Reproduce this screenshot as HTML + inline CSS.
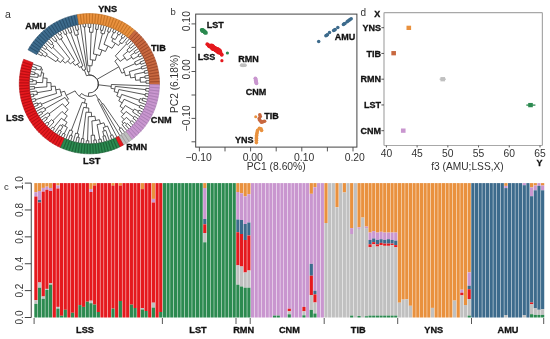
<!DOCTYPE html>
<html><head><meta charset="utf-8"><style>
html,body{margin:0;padding:0;background:#fff;}
svg{display:block;font-family:"Liberation Sans", sans-serif;will-change:transform;filter:blur(0.3px);}
text[font-weight=bold]{stroke:#111;stroke-width:0.3px;}
</style></head><body>
<svg width="550" height="339" viewBox="0 0 550 339">
<rect width="550" height="339" fill="#fff"/>
<path d="M60.55,147.59 A70.1,70.1 0 0 1 23.70,59.27 L33.07,62.75 A60.1,60.1 0 0 0 64.67,138.48 Z" fill="#e5191e"/>
<path d="M60.55,147.59 A70.1,70.1 0 0 1 57.84,146.29 L62.34,137.36 A60.1,60.1 0 0 0 64.67,138.48 Z" fill="none" stroke="#b00c10" stroke-width="0.6"/>
<path d="M57.84,146.29 A70.1,70.1 0 0 1 55.18,144.88 L60.06,136.15 A60.1,60.1 0 0 0 62.34,137.36 Z" fill="none" stroke="#b00c10" stroke-width="0.6"/>
<path d="M55.18,144.88 A70.1,70.1 0 0 1 52.59,143.35 L57.84,134.84 A60.1,60.1 0 0 0 60.06,136.15 Z" fill="none" stroke="#b00c10" stroke-width="0.6"/>
<path d="M52.59,143.35 A70.1,70.1 0 0 1 50.06,141.72 L55.67,133.44 A60.1,60.1 0 0 0 57.84,134.84 Z" fill="none" stroke="#b00c10" stroke-width="0.6"/>
<path d="M50.06,141.72 A70.1,70.1 0 0 1 47.60,139.98 L53.57,131.95 A60.1,60.1 0 0 0 55.67,133.44 Z" fill="none" stroke="#b00c10" stroke-width="0.6"/>
<path d="M47.60,139.98 A70.1,70.1 0 0 1 45.23,138.13 L51.53,130.37 A60.1,60.1 0 0 0 53.57,131.95 Z" fill="none" stroke="#b00c10" stroke-width="0.6"/>
<path d="M45.23,138.13 A70.1,70.1 0 0 1 42.93,136.19 L49.56,128.70 A60.1,60.1 0 0 0 51.53,130.37 Z" fill="none" stroke="#b00c10" stroke-width="0.6"/>
<path d="M42.93,136.19 A70.1,70.1 0 0 1 40.72,134.14 L47.67,126.95 A60.1,60.1 0 0 0 49.56,128.70 Z" fill="none" stroke="#b00c10" stroke-width="0.6"/>
<path d="M40.72,134.14 A70.1,70.1 0 0 1 38.60,132.01 L45.85,125.12 A60.1,60.1 0 0 0 47.67,126.95 Z" fill="none" stroke="#b00c10" stroke-width="0.6"/>
<path d="M38.60,132.01 A70.1,70.1 0 0 1 36.58,129.78 L44.11,123.21 A60.1,60.1 0 0 0 45.85,125.12 Z" fill="none" stroke="#b00c10" stroke-width="0.6"/>
<path d="M36.58,129.78 A70.1,70.1 0 0 1 34.65,127.47 L42.46,121.23 A60.1,60.1 0 0 0 44.11,123.21 Z" fill="none" stroke="#b00c10" stroke-width="0.6"/>
<path d="M34.65,127.47 A70.1,70.1 0 0 1 32.82,125.08 L40.89,119.18 A60.1,60.1 0 0 0 42.46,121.23 Z" fill="none" stroke="#b00c10" stroke-width="0.6"/>
<path d="M32.82,125.08 A70.1,70.1 0 0 1 31.09,122.61 L39.41,117.06 A60.1,60.1 0 0 0 40.89,119.18 Z" fill="none" stroke="#b00c10" stroke-width="0.6"/>
<path d="M31.09,122.61 A70.1,70.1 0 0 1 29.48,120.08 L38.03,114.89 A60.1,60.1 0 0 0 39.41,117.06 Z" fill="none" stroke="#b00c10" stroke-width="0.6"/>
<path d="M29.48,120.08 A70.1,70.1 0 0 1 27.97,117.47 L36.73,112.65 A60.1,60.1 0 0 0 38.03,114.89 Z" fill="none" stroke="#b00c10" stroke-width="0.6"/>
<path d="M27.97,117.47 A70.1,70.1 0 0 1 26.58,114.80 L35.54,110.37 A60.1,60.1 0 0 0 36.73,112.65 Z" fill="none" stroke="#b00c10" stroke-width="0.6"/>
<path d="M26.58,114.80 A70.1,70.1 0 0 1 25.30,112.08 L34.44,108.03 A60.1,60.1 0 0 0 35.54,110.37 Z" fill="none" stroke="#b00c10" stroke-width="0.6"/>
<path d="M25.30,112.08 A70.1,70.1 0 0 1 24.14,109.30 L33.45,105.65 A60.1,60.1 0 0 0 34.44,108.03 Z" fill="none" stroke="#b00c10" stroke-width="0.6"/>
<path d="M24.14,109.30 A70.1,70.1 0 0 1 23.10,106.48 L32.56,103.23 A60.1,60.1 0 0 0 33.45,105.65 Z" fill="none" stroke="#b00c10" stroke-width="0.6"/>
<path d="M23.10,106.48 A70.1,70.1 0 0 1 22.19,103.61 L31.77,100.77 A60.1,60.1 0 0 0 32.56,103.23 Z" fill="none" stroke="#b00c10" stroke-width="0.6"/>
<path d="M22.19,103.61 A70.1,70.1 0 0 1 21.39,100.71 L31.10,98.28 A60.1,60.1 0 0 0 31.77,100.77 Z" fill="none" stroke="#b00c10" stroke-width="0.6"/>
<path d="M21.39,100.71 A70.1,70.1 0 0 1 20.73,97.77 L30.52,95.76 A60.1,60.1 0 0 0 31.10,98.28 Z" fill="none" stroke="#b00c10" stroke-width="0.6"/>
<path d="M20.73,97.77 A70.1,70.1 0 0 1 20.19,94.81 L30.06,93.23 A60.1,60.1 0 0 0 30.52,95.76 Z" fill="none" stroke="#b00c10" stroke-width="0.6"/>
<path d="M20.19,94.81 A70.1,70.1 0 0 1 19.77,91.83 L29.71,90.67 A60.1,60.1 0 0 0 30.06,93.23 Z" fill="none" stroke="#b00c10" stroke-width="0.6"/>
<path d="M19.77,91.83 A70.1,70.1 0 0 1 19.49,88.83 L29.46,88.10 A60.1,60.1 0 0 0 29.71,90.67 Z" fill="none" stroke="#b00c10" stroke-width="0.6"/>
<path d="M19.49,88.83 A70.1,70.1 0 0 1 19.33,85.83 L29.33,85.52 A60.1,60.1 0 0 0 29.46,88.10 Z" fill="none" stroke="#b00c10" stroke-width="0.6"/>
<path d="M19.33,85.83 A70.1,70.1 0 0 1 19.31,82.82 L29.30,82.94 A60.1,60.1 0 0 0 29.33,85.52 Z" fill="none" stroke="#b00c10" stroke-width="0.6"/>
<path d="M19.31,82.82 A70.1,70.1 0 0 1 19.41,79.81 L29.39,80.37 A60.1,60.1 0 0 0 29.30,82.94 Z" fill="none" stroke="#b00c10" stroke-width="0.6"/>
<path d="M19.41,79.81 A70.1,70.1 0 0 1 19.64,76.81 L29.59,77.79 A60.1,60.1 0 0 0 29.39,80.37 Z" fill="none" stroke="#b00c10" stroke-width="0.6"/>
<path d="M19.64,76.81 A70.1,70.1 0 0 1 20.00,73.82 L29.90,75.23 A60.1,60.1 0 0 0 29.59,77.79 Z" fill="none" stroke="#b00c10" stroke-width="0.6"/>
<path d="M20.00,73.82 A70.1,70.1 0 0 1 20.49,70.85 L30.32,72.69 A60.1,60.1 0 0 0 29.90,75.23 Z" fill="none" stroke="#b00c10" stroke-width="0.6"/>
<path d="M20.49,70.85 A70.1,70.1 0 0 1 21.10,67.91 L30.85,70.16 A60.1,60.1 0 0 0 30.32,72.69 Z" fill="none" stroke="#b00c10" stroke-width="0.6"/>
<path d="M21.10,67.91 A70.1,70.1 0 0 1 21.84,64.99 L31.48,67.66 A60.1,60.1 0 0 0 30.85,70.16 Z" fill="none" stroke="#b00c10" stroke-width="0.6"/>
<path d="M21.84,64.99 A70.1,70.1 0 0 1 22.71,62.11 L32.22,65.19 A60.1,60.1 0 0 0 31.48,67.66 Z" fill="none" stroke="#b00c10" stroke-width="0.6"/>
<path d="M22.71,62.11 A70.1,70.1 0 0 1 23.70,59.27 L33.07,62.75 A60.1,60.1 0 0 0 32.22,65.19 Z" fill="none" stroke="#b00c10" stroke-width="0.6"/>
<path d="M28.03,49.82 A70.1,70.1 0 0 1 77.23,14.66 L78.96,24.51 A60.1,60.1 0 0 0 36.78,54.65 Z" fill="#3d6b8c"/>
<path d="M28.03,49.82 A70.1,70.1 0 0 1 29.60,47.12 L38.13,52.34 A60.1,60.1 0 0 0 36.78,54.65 Z" fill="none" stroke="#274c68" stroke-width="0.6"/>
<path d="M29.60,47.12 A70.1,70.1 0 0 1 31.29,44.49 L39.58,50.08 A60.1,60.1 0 0 0 38.13,52.34 Z" fill="none" stroke="#274c68" stroke-width="0.6"/>
<path d="M31.29,44.49 A70.1,70.1 0 0 1 33.10,41.94 L41.13,47.90 A60.1,60.1 0 0 0 39.58,50.08 Z" fill="none" stroke="#274c68" stroke-width="0.6"/>
<path d="M33.10,41.94 A70.1,70.1 0 0 1 35.01,39.47 L42.77,45.78 A60.1,60.1 0 0 0 41.13,47.90 Z" fill="none" stroke="#274c68" stroke-width="0.6"/>
<path d="M35.01,39.47 A70.1,70.1 0 0 1 37.04,37.09 L44.51,43.74 A60.1,60.1 0 0 0 42.77,45.78 Z" fill="none" stroke="#274c68" stroke-width="0.6"/>
<path d="M37.04,37.09 A70.1,70.1 0 0 1 39.17,34.80 L46.34,41.78 A60.1,60.1 0 0 0 44.51,43.74 Z" fill="none" stroke="#274c68" stroke-width="0.6"/>
<path d="M39.17,34.80 A70.1,70.1 0 0 1 41.40,32.61 L48.25,39.90 A60.1,60.1 0 0 0 46.34,41.78 Z" fill="none" stroke="#274c68" stroke-width="0.6"/>
<path d="M41.40,32.61 A70.1,70.1 0 0 1 43.73,30.52 L50.24,38.11 A60.1,60.1 0 0 0 48.25,39.90 Z" fill="none" stroke="#274c68" stroke-width="0.6"/>
<path d="M43.73,30.52 A70.1,70.1 0 0 1 46.14,28.54 L52.31,36.41 A60.1,60.1 0 0 0 50.24,38.11 Z" fill="none" stroke="#274c68" stroke-width="0.6"/>
<path d="M46.14,28.54 A70.1,70.1 0 0 1 48.64,26.67 L54.46,34.80 A60.1,60.1 0 0 0 52.31,36.41 Z" fill="none" stroke="#274c68" stroke-width="0.6"/>
<path d="M48.64,26.67 A70.1,70.1 0 0 1 51.23,24.91 L56.67,33.29 A60.1,60.1 0 0 0 54.46,34.80 Z" fill="none" stroke="#274c68" stroke-width="0.6"/>
<path d="M51.23,24.91 A70.1,70.1 0 0 1 53.88,23.26 L58.95,31.88 A60.1,60.1 0 0 0 56.67,33.29 Z" fill="none" stroke="#274c68" stroke-width="0.6"/>
<path d="M53.88,23.26 A70.1,70.1 0 0 1 56.61,21.74 L61.29,30.58 A60.1,60.1 0 0 0 58.95,31.88 Z" fill="none" stroke="#274c68" stroke-width="0.6"/>
<path d="M56.61,21.74 A70.1,70.1 0 0 1 59.41,20.34 L63.69,29.38 A60.1,60.1 0 0 0 61.29,30.58 Z" fill="none" stroke="#274c68" stroke-width="0.6"/>
<path d="M59.41,20.34 A70.1,70.1 0 0 1 62.26,19.07 L66.13,28.29 A60.1,60.1 0 0 0 63.69,29.38 Z" fill="none" stroke="#274c68" stroke-width="0.6"/>
<path d="M62.26,19.07 A70.1,70.1 0 0 1 65.17,17.92 L68.63,27.30 A60.1,60.1 0 0 0 66.13,28.29 Z" fill="none" stroke="#274c68" stroke-width="0.6"/>
<path d="M65.17,17.92 A70.1,70.1 0 0 1 68.13,16.91 L71.16,26.43 A60.1,60.1 0 0 0 68.63,27.30 Z" fill="none" stroke="#274c68" stroke-width="0.6"/>
<path d="M68.13,16.91 A70.1,70.1 0 0 1 71.13,16.02 L73.73,25.68 A60.1,60.1 0 0 0 71.16,26.43 Z" fill="none" stroke="#274c68" stroke-width="0.6"/>
<path d="M71.13,16.02 A70.1,70.1 0 0 1 74.16,15.28 L76.34,25.04 A60.1,60.1 0 0 0 73.73,25.68 Z" fill="none" stroke="#274c68" stroke-width="0.6"/>
<path d="M74.16,15.28 A70.1,70.1 0 0 1 77.23,14.66 L78.96,24.51 A60.1,60.1 0 0 0 76.34,25.04 Z" fill="none" stroke="#274c68" stroke-width="0.6"/>
<path d="M77.23,14.66 A70.1,70.1 0 0 1 134.93,30.40 L128.43,38.00 A60.1,60.1 0 0 0 78.96,24.51 Z" fill="#e9913e"/>
<path d="M77.23,14.66 A70.1,70.1 0 0 1 80.28,14.20 L81.58,24.11 A60.1,60.1 0 0 0 78.96,24.51 Z" fill="none" stroke="#c06e22" stroke-width="0.6"/>
<path d="M80.28,14.20 A70.1,70.1 0 0 1 83.35,13.86 L84.21,23.82 A60.1,60.1 0 0 0 81.58,24.11 Z" fill="none" stroke="#c06e22" stroke-width="0.6"/>
<path d="M83.35,13.86 A70.1,70.1 0 0 1 86.43,13.66 L86.86,23.65 A60.1,60.1 0 0 0 84.21,23.82 Z" fill="none" stroke="#c06e22" stroke-width="0.6"/>
<path d="M86.43,13.66 A70.1,70.1 0 0 1 89.52,13.60 L89.50,23.60 A60.1,60.1 0 0 0 86.86,23.65 Z" fill="none" stroke="#c06e22" stroke-width="0.6"/>
<path d="M89.52,13.60 A70.1,70.1 0 0 1 92.61,13.67 L92.15,23.66 A60.1,60.1 0 0 0 89.50,23.60 Z" fill="none" stroke="#c06e22" stroke-width="0.6"/>
<path d="M92.61,13.67 A70.1,70.1 0 0 1 95.69,13.88 L94.79,23.84 A60.1,60.1 0 0 0 92.15,23.66 Z" fill="none" stroke="#c06e22" stroke-width="0.6"/>
<path d="M95.69,13.88 A70.1,70.1 0 0 1 98.76,14.23 L97.43,24.14 A60.1,60.1 0 0 0 94.79,23.84 Z" fill="none" stroke="#c06e22" stroke-width="0.6"/>
<path d="M98.76,14.23 A70.1,70.1 0 0 1 101.81,14.71 L100.04,24.55 A60.1,60.1 0 0 0 97.43,24.14 Z" fill="none" stroke="#c06e22" stroke-width="0.6"/>
<path d="M101.81,14.71 A70.1,70.1 0 0 1 104.84,15.32 L102.64,25.08 A60.1,60.1 0 0 0 100.04,24.55 Z" fill="none" stroke="#c06e22" stroke-width="0.6"/>
<path d="M104.84,15.32 A70.1,70.1 0 0 1 107.84,16.07 L105.21,25.72 A60.1,60.1 0 0 0 102.64,25.08 Z" fill="none" stroke="#c06e22" stroke-width="0.6"/>
<path d="M107.84,16.07 A70.1,70.1 0 0 1 110.80,16.95 L107.75,26.47 A60.1,60.1 0 0 0 105.21,25.72 Z" fill="none" stroke="#c06e22" stroke-width="0.6"/>
<path d="M110.80,16.95 A70.1,70.1 0 0 1 113.72,17.95 L110.25,27.33 A60.1,60.1 0 0 0 107.75,26.47 Z" fill="none" stroke="#c06e22" stroke-width="0.6"/>
<path d="M113.72,17.95 A70.1,70.1 0 0 1 116.59,19.09 L112.71,28.31 A60.1,60.1 0 0 0 110.25,27.33 Z" fill="none" stroke="#c06e22" stroke-width="0.6"/>
<path d="M116.59,19.09 A70.1,70.1 0 0 1 119.41,20.35 L115.13,29.39 A60.1,60.1 0 0 0 112.71,28.31 Z" fill="none" stroke="#c06e22" stroke-width="0.6"/>
<path d="M119.41,20.35 A70.1,70.1 0 0 1 122.17,21.73 L117.50,30.57 A60.1,60.1 0 0 0 115.13,29.39 Z" fill="none" stroke="#c06e22" stroke-width="0.6"/>
<path d="M122.17,21.73 A70.1,70.1 0 0 1 124.87,23.24 L119.81,31.86 A60.1,60.1 0 0 0 117.50,30.57 Z" fill="none" stroke="#c06e22" stroke-width="0.6"/>
<path d="M124.87,23.24 A70.1,70.1 0 0 1 127.50,24.86 L122.07,33.25 A60.1,60.1 0 0 0 119.81,31.86 Z" fill="none" stroke="#c06e22" stroke-width="0.6"/>
<path d="M127.50,24.86 A70.1,70.1 0 0 1 130.06,26.60 L124.26,34.74 A60.1,60.1 0 0 0 122.07,33.25 Z" fill="none" stroke="#c06e22" stroke-width="0.6"/>
<path d="M130.06,26.60 A70.1,70.1 0 0 1 132.53,28.44 L126.38,36.32 A60.1,60.1 0 0 0 124.26,34.74 Z" fill="none" stroke="#c06e22" stroke-width="0.6"/>
<path d="M132.53,28.44 A70.1,70.1 0 0 1 134.93,30.40 L128.43,38.00 A60.1,60.1 0 0 0 126.38,36.32 Z" fill="none" stroke="#c06e22" stroke-width="0.6"/>
<path d="M134.93,30.40 A70.1,70.1 0 0 1 159.49,84.68 L149.49,84.54 A60.1,60.1 0 0 0 128.43,38.00 Z" fill="#c8683f"/>
<path d="M134.93,30.40 A70.1,70.1 0 0 1 137.22,32.44 L130.40,39.76 A60.1,60.1 0 0 0 128.43,38.00 Z" fill="none" stroke="#9a4628" stroke-width="0.6"/>
<path d="M137.22,32.44 A70.1,70.1 0 0 1 139.42,34.59 L132.29,41.60 A60.1,60.1 0 0 0 130.40,39.76 Z" fill="none" stroke="#9a4628" stroke-width="0.6"/>
<path d="M139.42,34.59 A70.1,70.1 0 0 1 141.53,36.83 L134.09,43.52 A60.1,60.1 0 0 0 132.29,41.60 Z" fill="none" stroke="#9a4628" stroke-width="0.6"/>
<path d="M141.53,36.83 A70.1,70.1 0 0 1 143.54,39.17 L135.81,45.52 A60.1,60.1 0 0 0 134.09,43.52 Z" fill="none" stroke="#9a4628" stroke-width="0.6"/>
<path d="M143.54,39.17 A70.1,70.1 0 0 1 145.44,41.59 L137.45,47.59 A60.1,60.1 0 0 0 135.81,45.52 Z" fill="none" stroke="#9a4628" stroke-width="0.6"/>
<path d="M145.44,41.59 A70.1,70.1 0 0 1 147.23,44.09 L138.98,49.74 A60.1,60.1 0 0 0 137.45,47.59 Z" fill="none" stroke="#9a4628" stroke-width="0.6"/>
<path d="M147.23,44.09 A70.1,70.1 0 0 1 148.92,46.66 L140.43,51.95 A60.1,60.1 0 0 0 138.98,49.74 Z" fill="none" stroke="#9a4628" stroke-width="0.6"/>
<path d="M148.92,46.66 A70.1,70.1 0 0 1 150.48,49.31 L141.77,54.21 A60.1,60.1 0 0 0 140.43,51.95 Z" fill="none" stroke="#9a4628" stroke-width="0.6"/>
<path d="M150.48,49.31 A70.1,70.1 0 0 1 151.93,52.02 L143.01,56.54 A60.1,60.1 0 0 0 141.77,54.21 Z" fill="none" stroke="#9a4628" stroke-width="0.6"/>
<path d="M151.93,52.02 A70.1,70.1 0 0 1 153.26,54.80 L144.15,58.92 A60.1,60.1 0 0 0 143.01,56.54 Z" fill="none" stroke="#9a4628" stroke-width="0.6"/>
<path d="M153.26,54.80 A70.1,70.1 0 0 1 154.47,57.63 L145.19,61.35 A60.1,60.1 0 0 0 144.15,58.92 Z" fill="none" stroke="#9a4628" stroke-width="0.6"/>
<path d="M154.47,57.63 A70.1,70.1 0 0 1 155.55,60.51 L146.12,63.82 A60.1,60.1 0 0 0 145.19,61.35 Z" fill="none" stroke="#9a4628" stroke-width="0.6"/>
<path d="M155.55,60.51 A70.1,70.1 0 0 1 156.51,63.43 L146.93,66.32 A60.1,60.1 0 0 0 146.12,63.82 Z" fill="none" stroke="#9a4628" stroke-width="0.6"/>
<path d="M156.51,63.43 A70.1,70.1 0 0 1 157.33,66.40 L147.64,68.87 A60.1,60.1 0 0 0 146.93,66.32 Z" fill="none" stroke="#9a4628" stroke-width="0.6"/>
<path d="M157.33,66.40 A70.1,70.1 0 0 1 158.02,69.39 L148.24,71.44 A60.1,60.1 0 0 0 147.64,68.87 Z" fill="none" stroke="#9a4628" stroke-width="0.6"/>
<path d="M158.02,69.39 A70.1,70.1 0 0 1 158.59,72.42 L148.72,74.03 A60.1,60.1 0 0 0 148.24,71.44 Z" fill="none" stroke="#9a4628" stroke-width="0.6"/>
<path d="M158.59,72.42 A70.1,70.1 0 0 1 159.01,75.47 L149.08,76.64 A60.1,60.1 0 0 0 148.72,74.03 Z" fill="none" stroke="#9a4628" stroke-width="0.6"/>
<path d="M159.01,75.47 A70.1,70.1 0 0 1 159.31,78.53 L149.34,79.27 A60.1,60.1 0 0 0 149.08,76.64 Z" fill="none" stroke="#9a4628" stroke-width="0.6"/>
<path d="M159.31,78.53 A70.1,70.1 0 0 1 159.47,81.60 L149.47,81.90 A60.1,60.1 0 0 0 149.34,79.27 Z" fill="none" stroke="#9a4628" stroke-width="0.6"/>
<path d="M159.47,81.60 A70.1,70.1 0 0 1 159.49,84.68 L149.49,84.54 A60.1,60.1 0 0 0 149.47,81.90 Z" fill="none" stroke="#9a4628" stroke-width="0.6"/>
<path d="M159.49,84.68 A70.1,70.1 0 0 1 131.88,139.46 L125.82,131.51 A60.1,60.1 0 0 0 149.49,84.54 Z" fill="#c996cf"/>
<path d="M159.49,84.68 A70.1,70.1 0 0 1 159.38,87.85 L149.39,87.26 A60.1,60.1 0 0 0 149.49,84.54 Z" fill="none" stroke="#a87cb2" stroke-width="0.6"/>
<path d="M159.38,87.85 A70.1,70.1 0 0 1 159.12,91.02 L149.17,89.97 A60.1,60.1 0 0 0 149.39,87.26 Z" fill="none" stroke="#a87cb2" stroke-width="0.6"/>
<path d="M159.12,91.02 A70.1,70.1 0 0 1 158.71,94.16 L148.83,92.67 A60.1,60.1 0 0 0 149.17,89.97 Z" fill="none" stroke="#a87cb2" stroke-width="0.6"/>
<path d="M158.71,94.16 A70.1,70.1 0 0 1 158.17,97.29 L148.36,95.35 A60.1,60.1 0 0 0 148.83,92.67 Z" fill="none" stroke="#a87cb2" stroke-width="0.6"/>
<path d="M158.17,97.29 A70.1,70.1 0 0 1 157.48,100.39 L147.77,98.01 A60.1,60.1 0 0 0 148.36,95.35 Z" fill="none" stroke="#a87cb2" stroke-width="0.6"/>
<path d="M157.48,100.39 A70.1,70.1 0 0 1 156.66,103.46 L147.06,100.64 A60.1,60.1 0 0 0 147.77,98.01 Z" fill="none" stroke="#a87cb2" stroke-width="0.6"/>
<path d="M156.66,103.46 A70.1,70.1 0 0 1 155.69,106.48 L146.24,103.23 A60.1,60.1 0 0 0 147.06,100.64 Z" fill="none" stroke="#a87cb2" stroke-width="0.6"/>
<path d="M155.69,106.48 A70.1,70.1 0 0 1 154.60,109.46 L145.29,105.79 A60.1,60.1 0 0 0 146.24,103.23 Z" fill="none" stroke="#a87cb2" stroke-width="0.6"/>
<path d="M154.60,109.46 A70.1,70.1 0 0 1 153.36,112.39 L144.24,108.29 A60.1,60.1 0 0 0 145.29,105.79 Z" fill="none" stroke="#a87cb2" stroke-width="0.6"/>
<path d="M153.36,112.39 A70.1,70.1 0 0 1 152.00,115.25 L143.07,110.75 A60.1,60.1 0 0 0 144.24,108.29 Z" fill="none" stroke="#a87cb2" stroke-width="0.6"/>
<path d="M152.00,115.25 A70.1,70.1 0 0 1 150.51,118.05 L141.79,113.15 A60.1,60.1 0 0 0 143.07,110.75 Z" fill="none" stroke="#a87cb2" stroke-width="0.6"/>
<path d="M150.51,118.05 A70.1,70.1 0 0 1 148.89,120.79 L140.40,115.49 A60.1,60.1 0 0 0 141.79,113.15 Z" fill="none" stroke="#a87cb2" stroke-width="0.6"/>
<path d="M148.89,120.79 A70.1,70.1 0 0 1 147.15,123.44 L138.91,117.77 A60.1,60.1 0 0 0 140.40,115.49 Z" fill="none" stroke="#a87cb2" stroke-width="0.6"/>
<path d="M147.15,123.44 A70.1,70.1 0 0 1 145.29,126.01 L137.32,119.98 A60.1,60.1 0 0 0 138.91,117.77 Z" fill="none" stroke="#a87cb2" stroke-width="0.6"/>
<path d="M145.29,126.01 A70.1,70.1 0 0 1 143.32,128.50 L135.62,122.11 A60.1,60.1 0 0 0 137.32,119.98 Z" fill="none" stroke="#a87cb2" stroke-width="0.6"/>
<path d="M143.32,128.50 A70.1,70.1 0 0 1 141.23,130.90 L133.84,124.16 A60.1,60.1 0 0 0 135.62,122.11 Z" fill="none" stroke="#a87cb2" stroke-width="0.6"/>
<path d="M141.23,130.90 A70.1,70.1 0 0 1 139.04,133.19 L131.96,126.13 A60.1,60.1 0 0 0 133.84,124.16 Z" fill="none" stroke="#a87cb2" stroke-width="0.6"/>
<path d="M139.04,133.19 A70.1,70.1 0 0 1 136.75,135.39 L130.00,128.02 A60.1,60.1 0 0 0 131.96,126.13 Z" fill="none" stroke="#a87cb2" stroke-width="0.6"/>
<path d="M136.75,135.39 A70.1,70.1 0 0 1 134.36,137.48 L127.95,129.81 A60.1,60.1 0 0 0 130.00,128.02 Z" fill="none" stroke="#a87cb2" stroke-width="0.6"/>
<path d="M134.36,137.48 A70.1,70.1 0 0 1 131.88,139.46 L125.82,131.51 A60.1,60.1 0 0 0 127.95,129.81 Z" fill="none" stroke="#a87cb2" stroke-width="0.6"/>
<path d="M131.88,139.46 A70.1,70.1 0 0 1 123.39,145.01 L118.54,136.26 A60.1,60.1 0 0 0 125.82,131.51 Z" fill="#c0c0c0"/>
<path d="M131.88,139.46 A70.1,70.1 0 0 1 129.14,141.45 L123.47,133.21 A60.1,60.1 0 0 0 125.82,131.51 Z" fill="none" stroke="#9a9a9a" stroke-width="0.6"/>
<path d="M129.14,141.45 A70.1,70.1 0 0 1 126.30,143.30 L121.04,134.80 A60.1,60.1 0 0 0 123.47,133.21 Z" fill="none" stroke="#9a9a9a" stroke-width="0.6"/>
<path d="M126.30,143.30 A70.1,70.1 0 0 1 123.39,145.01 L118.54,136.26 A60.1,60.1 0 0 0 121.04,134.80 Z" fill="none" stroke="#9a9a9a" stroke-width="0.6"/>
<path d="M123.39,145.01 A70.1,70.1 0 0 1 119.69,146.92 L115.37,137.90 A60.1,60.1 0 0 0 118.54,136.26 Z" fill="#e5191e"/>
<path d="M123.39,145.01 A70.1,70.1 0 0 1 119.69,146.92 L115.37,137.90 A60.1,60.1 0 0 0 118.54,136.26 Z" fill="none" stroke="#b00c10" stroke-width="0.6"/>
<path d="M119.69,146.92 A70.1,70.1 0 0 1 60.55,147.59 L64.67,138.48 A60.1,60.1 0 0 0 115.37,137.90 Z" fill="#2c8a50"/>
<path d="M119.69,146.92 A70.1,70.1 0 0 1 116.91,148.18 L112.98,138.98 A60.1,60.1 0 0 0 115.37,137.90 Z" fill="none" stroke="#1a5e34" stroke-width="0.6"/>
<path d="M116.91,148.18 A70.1,70.1 0 0 1 114.08,149.31 L110.56,139.95 A60.1,60.1 0 0 0 112.98,138.98 Z" fill="none" stroke="#1a5e34" stroke-width="0.6"/>
<path d="M114.08,149.31 A70.1,70.1 0 0 1 111.20,150.33 L108.09,140.82 A60.1,60.1 0 0 0 110.56,139.95 Z" fill="none" stroke="#1a5e34" stroke-width="0.6"/>
<path d="M111.20,150.33 A70.1,70.1 0 0 1 108.27,151.21 L105.58,141.58 A60.1,60.1 0 0 0 108.09,140.82 Z" fill="none" stroke="#1a5e34" stroke-width="0.6"/>
<path d="M108.27,151.21 A70.1,70.1 0 0 1 105.32,151.97 L103.05,142.23 A60.1,60.1 0 0 0 105.58,141.58 Z" fill="none" stroke="#1a5e34" stroke-width="0.6"/>
<path d="M105.32,151.97 A70.1,70.1 0 0 1 102.33,152.60 L100.49,142.77 A60.1,60.1 0 0 0 103.05,142.23 Z" fill="none" stroke="#1a5e34" stroke-width="0.6"/>
<path d="M102.33,152.60 A70.1,70.1 0 0 1 99.32,153.09 L97.90,143.20 A60.1,60.1 0 0 0 100.49,142.77 Z" fill="none" stroke="#1a5e34" stroke-width="0.6"/>
<path d="M99.32,153.09 A70.1,70.1 0 0 1 96.29,153.46 L95.31,143.51 A60.1,60.1 0 0 0 97.90,143.20 Z" fill="none" stroke="#1a5e34" stroke-width="0.6"/>
<path d="M96.29,153.46 A70.1,70.1 0 0 1 93.25,153.69 L92.70,143.71 A60.1,60.1 0 0 0 95.31,143.51 Z" fill="none" stroke="#1a5e34" stroke-width="0.6"/>
<path d="M93.25,153.69 A70.1,70.1 0 0 1 90.20,153.80 L90.08,143.80 A60.1,60.1 0 0 0 92.70,143.71 Z" fill="none" stroke="#1a5e34" stroke-width="0.6"/>
<path d="M90.20,153.80 A70.1,70.1 0 0 1 87.14,153.76 L87.47,143.77 A60.1,60.1 0 0 0 90.08,143.80 Z" fill="none" stroke="#1a5e34" stroke-width="0.6"/>
<path d="M87.14,153.76 A70.1,70.1 0 0 1 84.10,153.60 L84.85,143.63 A60.1,60.1 0 0 0 87.47,143.77 Z" fill="none" stroke="#1a5e34" stroke-width="0.6"/>
<path d="M84.10,153.60 A70.1,70.1 0 0 1 81.06,153.30 L82.25,143.37 A60.1,60.1 0 0 0 84.85,143.63 Z" fill="none" stroke="#1a5e34" stroke-width="0.6"/>
<path d="M81.06,153.30 A70.1,70.1 0 0 1 78.04,152.87 L79.66,143.00 A60.1,60.1 0 0 0 82.25,143.37 Z" fill="none" stroke="#1a5e34" stroke-width="0.6"/>
<path d="M78.04,152.87 A70.1,70.1 0 0 1 75.03,152.31 L77.08,142.52 A60.1,60.1 0 0 0 79.66,143.00 Z" fill="none" stroke="#1a5e34" stroke-width="0.6"/>
<path d="M75.03,152.31 A70.1,70.1 0 0 1 72.06,151.62 L74.54,141.93 A60.1,60.1 0 0 0 77.08,142.52 Z" fill="none" stroke="#1a5e34" stroke-width="0.6"/>
<path d="M72.06,151.62 A70.1,70.1 0 0 1 69.12,150.80 L72.01,141.23 A60.1,60.1 0 0 0 74.54,141.93 Z" fill="none" stroke="#1a5e34" stroke-width="0.6"/>
<path d="M69.12,150.80 A70.1,70.1 0 0 1 66.22,149.86 L69.53,140.42 A60.1,60.1 0 0 0 72.01,141.23 Z" fill="none" stroke="#1a5e34" stroke-width="0.6"/>
<path d="M66.22,149.86 A70.1,70.1 0 0 1 63.36,148.78 L67.08,139.50 A60.1,60.1 0 0 0 69.53,140.42 Z" fill="none" stroke="#1a5e34" stroke-width="0.6"/>
<path d="M63.36,148.78 A70.1,70.1 0 0 1 60.55,147.59 L64.67,138.48 A60.1,60.1 0 0 0 67.08,139.50 Z" fill="none" stroke="#1a5e34" stroke-width="0.6"/>
<path d="M76.28,30.42A54.87,54.87 0 0 1 78.67,29.88 M76.28,30.42L75.03,25.34 M78.67,29.88L77.65,24.76 M75.18,35.36A50.39,50.39 0 0 1 78.45,34.52 M78.45,34.52L77.47,30.14 M75.18,35.36L72.44,26.04 M69.51,33.20A54.27,54.27 0 0 1 71.78,32.37 M69.51,33.20L67.38,27.78 M71.78,32.37L69.89,26.85 M64.82,34.63A54.88,54.88 0 0 1 67.03,33.58 M64.82,34.63L62.48,29.96 M67.03,33.58L64.90,28.82 M59.43,35.20A57.01,57.01 0 0 1 61.62,33.91 M59.43,35.20L57.80,32.58 M61.62,33.91L60.11,31.22 M59.50,39.82A53.10,53.10 0 0 1 62.50,37.92 M62.50,37.92L60.52,34.55 M59.50,39.82L55.56,34.04 M54.97,41.75A54.27,54.27 0 0 1 56.87,40.26 M54.97,41.75L51.27,37.25 M56.87,40.26L53.38,35.59 M51.28,44.90A54.40,54.40 0 0 1 53.05,43.24 M51.28,44.90L47.28,40.83 M53.05,43.24L49.23,38.99 M51.62,48.53A51.61,51.61 0 0 1 54.06,46.08 M54.06,46.08L52.15,44.06 M51.62,48.53L45.41,42.75 M45.42,49.53A55.69,55.69 0 0 1 46.99,47.61 M45.42,49.53L41.94,46.83 M46.99,47.61L43.63,44.75 M41.45,55.82A55.47,55.47 0 0 1 42.74,53.71 M41.45,55.82L37.45,53.49 M42.74,53.71L38.84,51.20 M45.44,56.81A51.53,51.53 0 0 1 47.33,53.93 M45.44,56.81L42.08,54.75 M47.33,53.93L40.34,48.98 M56.00,61.70A40.00,40.00 0 0 1 58.37,58.46 M58.37,58.46L46.19,48.56 M56.00,61.70L46.36,55.35 M60.54,62.54A35.78,35.78 0 0 1 64.04,58.46 M64.04,58.46L52.82,47.29 M60.54,62.54L57.14,60.05 M65.42,63.18A31.57,31.57 0 0 1 69.92,58.86 M69.92,58.86L55.91,41.00 M65.42,63.18L62.21,60.43 M70.48,63.95A27.35,27.35 0 0 1 74.76,60.60 M74.76,60.60L60.98,38.84 M70.48,63.95L67.56,60.91 M75.14,65.49A23.13,23.13 0 0 1 79.50,62.79 M79.50,62.79L65.92,34.10 M75.14,65.49L72.54,62.17 M79.46,67.61A18.92,18.92 0 0 1 82.86,65.95 M82.86,65.95L70.64,32.77 M79.46,67.61L77.24,64.02 M82.97,70.48A14.70,14.70 0 0 1 85.73,69.47 M85.73,69.47L76.81,34.91 M82.97,70.48L81.12,66.69 M83.23,26.97A57.06,57.06 0 0 1 85.73,26.76 M83.23,26.97L82.90,23.95 M85.73,26.76L85.53,23.72 M88.26,27.45A56.26,56.26 0 0 1 90.74,27.45 M88.26,27.45L88.18,23.61 M90.74,27.45L90.83,23.62 M89.49,32.23A51.47,51.47 0 0 1 92.89,32.35 M89.49,32.23L89.50,27.44 M92.89,32.35L93.47,23.74 M95.52,29.24A54.80,54.80 0 0 1 97.91,29.56 M95.52,29.24L96.11,23.98 M97.91,29.56L98.74,24.33 M100.27,30.08A54.71,54.71 0 0 1 102.62,30.61 M100.27,30.08L101.34,24.80 M102.62,30.61L103.93,25.38 M100.82,33.11A51.86,51.86 0 0 1 104.14,33.98 M100.82,33.11L101.45,30.34 M104.14,33.98L106.48,26.08 M107.42,31.47A55.25,55.25 0 0 1 109.70,32.32 M107.42,31.47L109.00,26.89 M109.70,32.32L111.49,27.81 M112.55,31.92A56.72,56.72 0 0 1 114.81,32.99 M112.55,31.92L113.93,28.83 M114.81,32.99L116.32,29.97 M117.20,33.83A57.09,57.09 0 0 1 119.37,35.10 M117.20,33.83L118.66,31.21 M119.37,35.10L120.95,32.55 M111.28,37.52A51.11,51.11 0 0 1 115.26,39.62 M111.28,37.52L113.68,32.44 M115.26,39.62L118.29,34.46 M121.12,37.00A56.45,56.45 0 0 1 123.15,38.44 M121.12,37.00L123.17,33.99 M123.15,38.44L125.33,35.52 M119.27,41.75A51.50,51.50 0 0 1 121.97,43.81 M119.27,41.75L122.14,37.71 M121.97,43.81L127.42,37.15 M111.84,41.27A48.00,48.00 0 0 1 118.52,45.54 M111.84,41.27L113.29,38.52 M118.52,45.54L120.64,42.76 M103.97,44.31A42.00,42.00 0 0 1 112.03,48.32 M103.97,44.31L108.57,31.88 M112.03,48.32L115.27,43.27 M98.49,48.87A36.00,36.00 0 0 1 105.44,51.47 M98.49,48.87L102.49,33.52 M105.44,51.47L108.11,46.10 M93.41,53.97A30.00,30.00 0 0 1 99.92,55.61 M93.41,53.97L96.72,29.39 M99.92,55.61L102.03,49.99 M90.23,59.71A24.00,24.00 0 0 1 95.25,60.42 M90.23,59.71L91.19,32.26 M95.25,60.42L96.71,54.60 M87.85,65.77A18.00,18.00 0 0 1 91.92,65.88 M87.85,65.77L84.48,26.85 M91.92,65.88L92.76,59.94 M87.58,71.84A12.00,12.00 0 0 1 89.72,71.70 M87.58,71.84L80.27,24.30 M89.72,71.70L89.89,65.71 M125.68,43.06A54.48,54.48 0 0 1 127.43,44.69 M125.68,43.06L129.43,38.87 M127.43,44.69L131.35,40.67 M128.91,46.58A54.22,54.22 0 0 1 130.50,48.35 M128.91,46.58L133.20,42.55 M130.50,48.35L134.97,44.51 M126.86,50.03A50.37,50.37 0 0 1 128.99,52.56 M126.86,50.03L129.72,47.45 M128.99,52.56L136.64,46.55 M134.14,51.59A55.07,55.07 0 0 1 135.50,53.59 M134.14,51.59L138.23,48.66 M135.50,53.59L139.72,50.83 M138.00,54.91A56.49,56.49 0 0 1 139.22,57.08 M138.00,54.91L141.11,53.07 M139.22,57.08L142.40,55.37 M130.65,55.44A50.00,50.00 0 0 1 132.97,59.17 M130.65,55.44L134.83,52.58 M132.97,59.17L138.62,55.99 M123.07,55.38A44.00,44.00 0 0 1 126.76,60.45 M123.07,55.38L127.94,51.28 M126.76,60.45L131.85,57.28 M115.32,55.92A38.00,38.00 0 0 1 120.15,61.37 M115.32,55.92L126.57,43.86 M120.15,61.37L125.00,57.85 M140.02,62.12A55.03,55.03 0 0 1 140.92,64.36 M140.02,62.12L144.68,60.13 M140.92,64.36L145.67,62.58 M134.59,62.04A50.11,50.11 0 0 1 135.92,65.06 M135.92,65.06L140.48,63.23 M134.59,62.04L143.60,57.72 M141.14,66.83A54.42,54.42 0 0 1 141.83,69.11 M141.14,66.83L146.54,65.07 M141.83,69.11L147.30,67.59 M144.16,71.03A56.20,56.20 0 0 1 144.66,73.44 M144.16,71.03L147.95,70.15 M144.66,73.44L148.49,72.73 M144.87,75.90A56.02,56.02 0 0 1 145.16,78.34 M144.87,75.90L148.91,75.33 M145.16,78.34L149.22,77.95 M145.93,80.76A56.60,56.60 0 0 1 146.00,83.25 M145.93,80.76L149.42,80.58 M146.00,83.25L149.50,83.22 M140.05,77.71A51.00,51.00 0 0 1 140.38,82.17 M140.05,77.71L145.03,77.12 M140.38,82.17L145.98,82.01 M134.76,74.24A46.33,46.33 0 0 1 135.61,80.28 M134.76,74.24L144.42,72.23 M135.61,80.28L140.26,79.94 M129.29,71.65A41.67,41.67 0 0 1 130.66,77.90 M129.29,71.65L141.49,67.97 M130.66,77.90L135.28,77.25 M123.27,68.82A37.00,37.00 0 0 1 125.54,75.75 M123.27,68.82L135.28,63.54 M125.54,75.75L130.09,74.75 M114.87,61.18A34.00,34.00 0 0 1 121.72,73.16 M114.87,61.18L117.87,58.53 M121.72,73.16L124.58,72.23 M145.87,88.34A56.66,56.66 0 0 1 145.61,90.89 M145.87,88.34L149.30,88.62 M145.61,90.89L149.01,91.32 M145.46,93.47A56.90,56.90 0 0 1 144.96,95.99 M145.46,93.47L148.61,94.01 M144.96,95.99L148.08,96.68 M142.79,98.08A55.29,55.29 0 0 1 142.08,100.48 M142.79,98.08L147.43,99.33 M142.08,100.48L146.67,101.94 M140.04,98.58A52.78,52.78 0 0 1 138.92,101.98 M140.04,98.58L142.45,99.28 M138.92,101.98L145.78,104.51 M140.14,105.09A55.07,55.07 0 0 1 139.12,107.37 M140.14,105.09L144.78,107.05 M139.12,107.37L143.67,109.53 M138.97,110.11A56.17,56.17 0 0 1 137.73,112.33 M138.97,110.11L142.44,111.96 M137.73,112.33L141.11,114.33 M134.40,109.00A51.62,51.62 0 0 1 132.58,112.00 M134.40,109.00L138.36,111.23 M132.58,112.00L139.67,116.64 M134.52,116.28A55.66,55.66 0 0 1 133.00,118.29 M134.52,116.28L138.12,118.88 M133.00,118.29L136.48,121.05 M131.76,120.56A56.15,56.15 0 0 1 130.05,122.44 M131.76,120.56L134.74,123.15 M130.05,122.44L132.91,125.16 M127.45,123.40A54.99,54.99 0 0 1 125.61,125.08 M127.45,123.40L130.99,127.09 M125.61,125.08L128.98,128.93 M124.76,122.30A52.34,52.34 0 0 1 122.05,124.61 M124.76,122.30L126.54,124.25 M122.05,124.61L126.89,130.67 M126.37,117.36A50.00,50.00 0 0 1 121.90,121.70 M126.37,117.36L130.92,121.51 M121.90,121.70L123.42,123.48 M126.07,111.47A46.00,46.00 0 0 1 121.42,116.73 M126.07,111.47L133.77,117.30 M121.42,116.73L124.20,119.60 M125.29,105.51A42.00,42.00 0 0 1 120.85,111.54 M125.29,105.51L133.51,110.51 M120.85,111.54L123.85,114.19 M124.07,99.25A38.00,38.00 0 0 1 119.99,106.25 M124.07,99.25L139.64,106.23 M119.99,106.25L123.21,108.62 M121.68,94.38A34.00,34.00 0 0 1 118.76,100.84 M121.68,94.38L139.51,100.29 M118.76,100.84L122.22,102.86 M118.83,89.52A30.00,30.00 0 0 1 116.74,96.04 M118.83,89.52L145.22,94.73 M116.74,96.04L120.39,97.69 M115.26,86.41A26.00,26.00 0 0 1 114.16,91.62 M115.26,86.41L145.75,89.61 M114.16,91.62L117.97,92.84 M111.39,84.51A22.00,22.00 0 0 1 110.93,88.22 M111.39,84.51L149.46,85.90 M110.93,88.22L114.84,89.05 M121.18,127.57A54.17,54.17 0 0 1 119.02,129.06 M121.18,127.57L124.66,132.37 M119.02,129.06L122.26,134.02 M103.01,103.47A24.00,24.00 0 0 1 101.54,104.40 M103.01,103.47L120.11,128.33 M101.54,104.40L119.80,135.55 M99.06,98.89A18.00,18.00 0 0 1 97.66,99.70 M99.06,98.89L102.28,103.95 M97.66,99.70L116.96,137.11 M72.39,135.85A54.85,54.85 0 0 1 70.14,135.06 M72.39,135.85L70.77,140.84 M70.14,135.06L68.30,139.97 M72.79,131.11A50.24,50.24 0 0 1 69.73,129.93 M72.79,131.11L71.26,135.46 M69.73,129.93L65.87,139.00 M79.35,137.51A54.74,54.74 0 0 1 77.02,137.02 M79.35,137.51L78.37,142.78 M77.02,137.02L75.81,142.24 M78.88,133.93A51.32,51.32 0 0 1 75.63,133.14 M78.88,133.93L78.18,137.28 M75.63,133.14L73.27,141.60 M84.01,138.80A55.36,55.36 0 0 1 81.62,138.51 M84.01,138.80L83.55,143.51 M81.62,138.51L80.95,143.20 M88.80,140.77A57.07,57.07 0 0 1 86.32,140.69 M88.80,140.77L88.77,143.80 M86.32,140.69L86.16,143.71 M96.18,139.85A56.56,56.56 0 0 1 93.73,140.09 M96.18,139.85L96.61,143.37 M93.73,140.09L94.00,143.62 M94.48,135.12A51.67,51.67 0 0 1 91.11,135.34 M94.48,135.12L94.96,139.98 M91.11,135.34L91.39,143.77 M101.03,139.00A56.51,56.51 0 0 1 98.61,139.45 M101.03,139.00L101.77,142.51 M98.61,139.45L99.20,143.00 M105.16,135.67A54.31,54.31 0 0 1 102.88,136.31 M105.16,135.67L106.84,141.21 M102.88,136.31L104.32,141.92 M105.80,130.36A49.46,49.46 0 0 1 102.72,131.33 M102.72,131.33L104.02,136.01 M105.80,130.36L109.33,140.40 M112.52,134.78A56.07,56.07 0 0 1 110.27,135.74 M112.52,134.78L114.18,138.45 M110.27,135.74L111.78,139.48 M107.45,126.01A46.00,46.00 0 0 1 103.23,127.57 M103.23,127.57L104.26,130.87 M107.45,126.01L111.40,135.27 M103.85,122.78A41.67,41.67 0 0 1 97.09,124.65 M97.09,124.65L99.82,139.24 M103.85,122.78L105.36,126.84 M99.35,119.68A37.33,37.33 0 0 1 91.85,120.95 M91.85,120.95L92.80,135.26 M99.35,119.68L100.51,123.86 M94.91,116.24A33.00,33.00 0 0 1 88.34,116.68 M88.34,116.68L87.56,140.74 M94.91,116.24L95.64,120.51 M91.34,112.30A28.67,28.67 0 0 1 85.99,112.16 M85.99,112.16L82.81,138.67 M91.34,112.30L91.64,116.62 M88.77,108.03A24.33,24.33 0 0 1 83.64,107.34 M83.64,107.34L77.25,133.56 M88.77,108.03L88.66,112.36 M86.76,103.52A20.00,20.00 0 0 1 82.17,102.35 M82.17,102.35L71.25,130.54 M86.76,103.52L86.19,107.82 M42.56,113.53A55.53,55.53 0 0 1 41.33,111.49 M42.56,113.53L38.71,115.98 M41.33,111.49L37.37,113.78 M45.73,110.21A51.09,51.09 0 0 1 44.11,107.34 M45.73,110.21L41.94,112.51 M44.11,107.34L36.12,111.52 M47.30,118.86A54.85,54.85 0 0 1 45.83,117.03 M47.30,118.86L43.27,122.23 M45.83,117.03L41.66,120.21 M50.06,115.15A50.36,50.36 0 0 1 48.12,112.55 M50.06,115.15L46.55,117.95 M48.12,112.55L40.14,118.13 M48.95,123.85A56.99,56.99 0 0 1 47.27,122.08 M48.95,123.85L46.75,126.04 M47.27,122.08L44.97,124.17 M54.02,121.98A52.13,52.13 0 0 1 51.63,119.62 M51.63,119.62L48.10,122.97 M54.02,121.98L48.60,127.83 M54.55,128.58A56.83,56.83 0 0 1 52.65,127.05 M54.55,128.58L52.54,131.17 M52.65,127.05L50.54,129.54 M61.39,131.34A55.27,55.27 0 0 1 59.37,130.10 M61.39,131.34L58.94,135.51 M59.37,130.10L56.75,134.16 M62.89,126.65A50.47,50.47 0 0 1 60.18,124.86 M62.89,126.65L60.37,130.73 M60.18,124.86L54.61,132.71 M65.23,134.30A56.08,56.08 0 0 1 63.08,133.22 M65.23,134.30L63.50,137.93 M63.08,133.22L61.19,136.77 M67.35,127.43A48.97,48.97 0 0 1 62.35,124.53 M62.35,124.53L61.52,125.78 M67.35,127.43L64.15,133.77 M67.05,122.18A44.50,44.50 0 0 1 61.36,118.25 M61.36,118.25L53.59,127.82 M67.05,122.18L64.81,126.05 M67.25,115.80A39.00,39.00 0 0 1 62.02,111.47 M62.02,111.47L52.80,120.82 M67.25,115.80L64.13,120.33 M68.05,109.51A33.50,33.50 0 0 1 62.57,103.76 M62.57,103.76L49.07,113.86 M68.05,109.51L64.54,113.75 M69.12,103.01A28.00,28.00 0 0 1 65.01,97.45 M65.01,97.45L44.90,108.79 M69.12,103.01L65.14,106.80 M38.21,105.06A55.46,55.46 0 0 1 37.34,102.84 M38.21,105.06L33.94,106.84 M37.34,102.84L32.99,104.44 M42.15,105.84A52.18,52.18 0 0 1 40.82,102.76 M40.82,102.76L37.77,103.96 M42.15,105.84L34.98,109.20 M35.92,100.80A56.15,56.15 0 0 1 35.23,98.49 M35.92,100.80L32.15,102.00 M35.23,98.49L31.42,99.53 M33.95,96.31A56.87,56.87 0 0 1 33.46,93.92 M33.95,96.31L30.80,97.03 M33.46,93.92L30.28,94.50 M37.38,94.36A53.10,53.10 0 0 1 36.80,90.99 M37.38,94.36L33.69,95.11 M36.80,90.99L29.87,91.95 M34.61,88.91A55.03,55.03 0 0 1 34.44,86.55 M34.61,88.91L29.57,89.39 M34.44,86.55L29.38,86.81 M32.82,81.77A56.62,56.62 0 0 1 32.95,79.35 M32.82,81.77L29.33,81.65 M32.95,79.35L29.48,79.08 M36.30,84.17A53.10,53.10 0 0 1 36.38,80.75 M36.38,80.75L32.87,80.56 M36.30,84.17L29.30,84.23 M34.63,74.70A55.50,55.50 0 0 1 35.07,72.36 M34.63,74.70L30.10,73.96 M35.07,72.36L30.57,71.42 M37.79,77.48A51.98,51.98 0 0 1 38.30,74.17 M38.30,74.17L34.84,73.53 M37.79,77.48L29.73,76.51 M35.78,70.08A55.32,55.32 0 0 1 36.42,67.79 M35.78,70.08L31.15,68.91 M36.42,67.79L31.84,66.42 M40.49,70.15A50.75,50.75 0 0 1 41.46,67.03 M40.49,70.15L36.09,68.94 M41.46,67.03L32.63,63.96 M40.72,76.24A49.25,49.25 0 0 1 42.38,69.03 M40.72,76.24L38.02,75.82 M42.38,69.03L40.95,68.59 M42.61,82.61A46.80,46.80 0 0 1 43.80,73.16 M42.61,82.61L36.31,82.46 M43.80,73.16L41.41,72.60 M46.91,86.82A42.60,42.60 0 0 1 47.13,78.38 M46.91,86.82L34.52,87.73 M47.13,78.38L42.97,77.85 M51.55,90.19A38.40,38.40 0 0 1 51.01,82.70 M51.55,90.19L37.06,92.68 M51.01,82.70L46.81,82.59 M56.61,93.41A34.20,34.20 0 0 1 55.29,86.16 M56.61,93.41L35.56,99.65 M55.29,86.16L51.10,86.46 M61.84,95.55A30.00,30.00 0 0 1 59.88,89.07 M61.84,95.55L41.46,104.31 M59.88,89.07L55.75,89.82 M68.50,99.17A26.00,26.00 0 0 1 64.51,91.21 M68.50,99.17L66.89,100.36 M64.51,91.21L60.68,92.37 M85.43,99.20A16.00,16.00 0 0 1 75.10,90.88 M85.43,99.20L84.43,103.07 M75.10,90.88L66.16,95.36 M95.68,94.63A12.60,12.60 0 0 1 81.49,93.51 M95.68,94.63L98.37,99.31 M81.49,93.51L79.36,96.16 M98.53,84.82A9.20,9.20 0 0 1 88.68,92.87 M98.53,84.82L111.24,86.37 M88.68,92.87L88.41,96.26 M97.21,79.23A9.00,9.00 0 0 1 95.10,90.67 M97.21,79.23L118.91,66.82 M95.10,90.67L95.22,90.82 M88.85,74.92A8.80,8.80 0 0 1 98.05,85.30 M88.85,74.92L88.65,71.72 M98.05,85.30L98.25,85.34 M86.46,75.72A8.50,8.50 0 0 1 95.76,78.06 M86.46,75.72L84.32,69.91 M95.76,78.06L95.99,77.86" fill="none" stroke="#222" stroke-width="0.75"/>
<text x="35.8" y="28.6" text-anchor="middle" font-size="9.2" font-weight="bold" fill="#111">AMU</text>
<text x="107.7" y="11.6" text-anchor="middle" font-size="9.2" font-weight="bold" fill="#111">YNS</text>
<text x="158.4" y="51.2" text-anchor="middle" font-size="9.2" font-weight="bold" fill="#111">TIB</text>
<text x="161.3" y="123.2" text-anchor="middle" font-size="9.2" font-weight="bold" fill="#111">CNM</text>
<text x="136.8" y="150.1" text-anchor="middle" font-size="9.2" font-weight="bold" fill="#111">RMN</text>
<text x="91.7" y="164.1" text-anchor="middle" font-size="9.2" font-weight="bold" fill="#111">LST</text>
<text x="15" y="121.3" text-anchor="middle" font-size="9.2" font-weight="bold" fill="#111">LSS</text>
<text x="5" y="17.5" font-size="10.5" fill="#333">a</text>
<rect x="195.7" y="14.1" width="161.2" height="133.0" fill="none" stroke="#444" stroke-width="1"/>
<line x1="199.40" y1="147.1" x2="199.40" y2="151.4" stroke="#444" stroke-width="0.9"/>
<line x1="225.00" y1="147.1" x2="225.00" y2="151.4" stroke="#444" stroke-width="0.9"/>
<line x1="250.60" y1="147.1" x2="250.60" y2="151.4" stroke="#444" stroke-width="0.9"/>
<line x1="276.20" y1="147.1" x2="276.20" y2="151.4" stroke="#444" stroke-width="0.9"/>
<line x1="301.80" y1="147.1" x2="301.80" y2="151.4" stroke="#444" stroke-width="0.9"/>
<line x1="327.40" y1="147.1" x2="327.40" y2="151.4" stroke="#444" stroke-width="0.9"/>
<line x1="353.00" y1="147.1" x2="353.00" y2="151.4" stroke="#444" stroke-width="0.9"/>
<text x="198.60" y="160.6" text-anchor="middle" font-size="10.4" fill="#333">−0.10</text>
<text x="252.80" y="160.6" text-anchor="middle" font-size="10.4" fill="#333">0.00</text>
<text x="304.20" y="160.6" text-anchor="middle" font-size="10.4" fill="#333">0.10</text>
<text x="354.80" y="160.6" text-anchor="middle" font-size="10.4" fill="#333">0.20</text>
<line x1="191.5" y1="23.9" x2="195.7" y2="23.9" stroke="#444" stroke-width="0.9"/>
<line x1="191.5" y1="47.4" x2="195.7" y2="47.4" stroke="#444" stroke-width="0.9"/>
<line x1="191.5" y1="71.5" x2="195.7" y2="71.5" stroke="#444" stroke-width="0.9"/>
<line x1="191.5" y1="95" x2="195.7" y2="95" stroke="#444" stroke-width="0.9"/>
<line x1="191.5" y1="118.4" x2="195.7" y2="118.4" stroke="#444" stroke-width="0.9"/>
<line x1="191.5" y1="141.8" x2="195.7" y2="141.8" stroke="#444" stroke-width="0.9"/>
<text transform="translate(189.8,21.20) rotate(-90)" text-anchor="middle" font-size="10.4" fill="#333">0.10</text>
<text transform="translate(189.8,69.30) rotate(-90)" text-anchor="middle" font-size="10.4" fill="#333">0.00</text>
<text transform="translate(189.8,118.30) rotate(-90)" text-anchor="middle" font-size="10.4" fill="#333">−0.10</text>
<text x="276.2" y="170.4" text-anchor="middle" font-size="10.3" fill="#333">PC1 (8.60%)</text>
<text transform="translate(178.4,83.8) rotate(-90)" text-anchor="middle" font-size="10.2" fill="#333">PC2 (6.18%)</text>
<text x="170.6" y="15.4" font-size="9.5" fill="#333">b</text>
<circle cx="201.74" cy="29.84" r="1.95" fill="#2c8a50"/>
<circle cx="202.20" cy="30.18" r="1.95" fill="#2c8a50"/>
<circle cx="202.78" cy="29.91" r="1.95" fill="#2c8a50"/>
<circle cx="202.49" cy="30.96" r="1.95" fill="#2c8a50"/>
<circle cx="203.07" cy="30.63" r="1.95" fill="#2c8a50"/>
<circle cx="204.13" cy="31.13" r="1.95" fill="#2c8a50"/>
<circle cx="204.30" cy="31.41" r="1.95" fill="#2c8a50"/>
<circle cx="204.43" cy="31.36" r="1.95" fill="#2c8a50"/>
<circle cx="204.75" cy="32.35" r="1.95" fill="#2c8a50"/>
<circle cx="204.97" cy="32.50" r="1.95" fill="#2c8a50"/>
<circle cx="205.44" cy="32.09" r="1.95" fill="#2c8a50"/>
<circle cx="205.86" cy="32.89" r="1.95" fill="#2c8a50"/>
<circle cx="207.20" cy="44.13" r="1.8" fill="#e5191e"/>
<circle cx="208.26" cy="44.91" r="1.8" fill="#e5191e"/>
<circle cx="208.61" cy="45.65" r="1.8" fill="#e5191e"/>
<circle cx="209.10" cy="46.03" r="1.8" fill="#e5191e"/>
<circle cx="209.28" cy="46.25" r="1.8" fill="#e5191e"/>
<circle cx="209.83" cy="46.73" r="1.8" fill="#e5191e"/>
<circle cx="210.76" cy="46.23" r="1.8" fill="#e5191e"/>
<circle cx="210.51" cy="46.68" r="1.8" fill="#e5191e"/>
<circle cx="211.84" cy="47.24" r="1.8" fill="#e5191e"/>
<circle cx="212.00" cy="47.44" r="1.8" fill="#e5191e"/>
<circle cx="212.37" cy="47.87" r="1.8" fill="#e5191e"/>
<circle cx="212.71" cy="48.40" r="1.8" fill="#e5191e"/>
<circle cx="213.44" cy="49.06" r="1.8" fill="#e5191e"/>
<circle cx="214.04" cy="49.42" r="1.8" fill="#e5191e"/>
<circle cx="214.71" cy="49.82" r="1.8" fill="#e5191e"/>
<circle cx="215.02" cy="49.33" r="1.8" fill="#e5191e"/>
<circle cx="215.71" cy="50.47" r="1.8" fill="#e5191e"/>
<circle cx="216.25" cy="50.41" r="1.8" fill="#e5191e"/>
<circle cx="216.55" cy="50.39" r="1.8" fill="#e5191e"/>
<circle cx="217.17" cy="51.09" r="1.8" fill="#e5191e"/>
<circle cx="217.12" cy="50.92" r="1.8" fill="#e5191e"/>
<circle cx="218.18" cy="52.19" r="1.8" fill="#e5191e"/>
<circle cx="217.91" cy="52.34" r="1.8" fill="#e5191e"/>
<circle cx="218.73" cy="52.02" r="1.8" fill="#e5191e"/>
<circle cx="219.11" cy="52.98" r="1.8" fill="#e5191e"/>
<circle cx="220.19" cy="52.59" r="1.8" fill="#e5191e"/>
<circle cx="220.42" cy="52.93" r="1.8" fill="#e5191e"/>
<circle cx="221.03" cy="53.56" r="1.8" fill="#e5191e"/>
<circle cx="221.68" cy="54.54" r="1.8" fill="#e5191e"/>
<circle cx="221.81" cy="54.90" r="1.8" fill="#e5191e"/>
<circle cx="211.16" cy="45.84" r="2.3" fill="#e5191e"/>
<circle cx="212.10" cy="46.02" r="2.3" fill="#e5191e"/>
<circle cx="211.80" cy="46.96" r="2.3" fill="#e5191e"/>
<circle cx="212.96" cy="46.77" r="2.3" fill="#e5191e"/>
<circle cx="212.36" cy="48.31" r="2.3" fill="#e5191e"/>
<circle cx="213.27" cy="48.74" r="2.3" fill="#e5191e"/>
<circle cx="214.74" cy="47.96" r="2.3" fill="#e5191e"/>
<circle cx="214.38" cy="48.48" r="2.3" fill="#e5191e"/>
<circle cx="215.13" cy="48.88" r="2.3" fill="#e5191e"/>
<circle cx="215.40" cy="49.18" r="2.3" fill="#e5191e"/>
<circle cx="216.50" cy="49.24" r="2.3" fill="#e5191e"/>
<circle cx="216.01" cy="49.89" r="2.3" fill="#e5191e"/>
<circle cx="216.08" cy="49.40" r="2.3" fill="#e5191e"/>
<circle cx="217.83" cy="50.06" r="2.3" fill="#e5191e"/>
<circle cx="217.48" cy="49.40" r="2.3" fill="#e5191e"/>
<circle cx="217.66" cy="50.69" r="2.3" fill="#e5191e"/>
<circle cx="217.37" cy="51.02" r="2.3" fill="#e5191e"/>
<circle cx="218.90" cy="50.28" r="2.3" fill="#e5191e"/>
<circle cx="219.31" cy="51.28" r="2.3" fill="#e5191e"/>
<circle cx="219.82" cy="51.33" r="2.3" fill="#e5191e"/>
<circle cx="221.90" cy="60.70" r="1.6" fill="#e5191e"/>
<circle cx="227.40" cy="53.00" r="1.6" fill="#2c8a50"/>
<circle cx="241.52" cy="65.34" r="1.7" fill="#c0c0c0"/>
<circle cx="241.87" cy="64.98" r="1.7" fill="#c0c0c0"/>
<circle cx="243.03" cy="65.56" r="1.7" fill="#c0c0c0"/>
<circle cx="243.53" cy="65.29" r="1.7" fill="#c0c0c0"/>
<circle cx="244.50" cy="65.25" r="1.7" fill="#c0c0c0"/>
<circle cx="245.12" cy="65.29" r="1.7" fill="#c0c0c0"/>
<circle cx="255.32" cy="78.26" r="1.8" fill="#c996cf"/>
<circle cx="255.39" cy="78.73" r="1.8" fill="#c996cf"/>
<circle cx="255.79" cy="79.12" r="1.8" fill="#c996cf"/>
<circle cx="255.77" cy="80.14" r="1.8" fill="#c996cf"/>
<circle cx="255.73" cy="80.43" r="1.8" fill="#c996cf"/>
<circle cx="256.14" cy="81.04" r="1.8" fill="#c996cf"/>
<circle cx="255.88" cy="81.76" r="1.8" fill="#c996cf"/>
<circle cx="256.30" cy="82.16" r="1.8" fill="#c996cf"/>
<circle cx="256.18" cy="82.90" r="1.8" fill="#c996cf"/>
<circle cx="256.60" cy="83.56" r="1.8" fill="#c996cf"/>
<circle cx="255.70" cy="116.80" r="1.5" fill="#e9913e"/>
<circle cx="259.80" cy="114.80" r="1.8" fill="#c8683f"/>
<circle cx="259.20" cy="118.60" r="1.8" fill="#c8683f"/>
<circle cx="260.60" cy="121.00" r="1.8" fill="#c8683f"/>
<circle cx="263.30" cy="121.60" r="1.8" fill="#c8683f"/>
<circle cx="264.60" cy="121.20" r="1.8" fill="#c8683f"/>
<circle cx="260.30" cy="116.50" r="1.8" fill="#c8683f"/>
<circle cx="262.00" cy="122.00" r="1.8" fill="#c8683f"/>
<circle cx="259.50" cy="120.00" r="1.8" fill="#c8683f"/>
<circle cx="261.50" cy="122.30" r="1.8" fill="#c8683f"/>
<circle cx="261.00" cy="128.80" r="1.8" fill="#e9913e"/>
<circle cx="259.40" cy="128.20" r="1.8" fill="#e9913e"/>
<circle cx="257.60" cy="130.40" r="1.8" fill="#e9913e"/>
<circle cx="256.90" cy="133.60" r="1.8" fill="#e9913e"/>
<circle cx="256.50" cy="137.00" r="1.8" fill="#e9913e"/>
<circle cx="256.40" cy="140.20" r="1.8" fill="#e9913e"/>
<circle cx="256.40" cy="142.60" r="1.8" fill="#e9913e"/>
<circle cx="261.60" cy="130.40" r="1.8" fill="#e9913e"/>
<circle cx="257.20" cy="132.00" r="1.8" fill="#e9913e"/>
<circle cx="256.60" cy="135.20" r="1.8" fill="#e9913e"/>
<circle cx="256.50" cy="138.60" r="1.8" fill="#e9913e"/>
<circle cx="318.70" cy="41.40" r="1.75" fill="#3d6b8c"/>
<circle cx="325.90" cy="35.70" r="1.75" fill="#3d6b8c"/>
<circle cx="327.40" cy="34.70" r="1.75" fill="#3d6b8c"/>
<circle cx="329.50" cy="32.60" r="1.75" fill="#3d6b8c"/>
<circle cx="333.60" cy="30.60" r="1.75" fill="#3d6b8c"/>
<circle cx="335.20" cy="29.50" r="1.75" fill="#3d6b8c"/>
<circle cx="337.80" cy="27.50" r="1.75" fill="#3d6b8c"/>
<circle cx="343.40" cy="24.40" r="1.75" fill="#3d6b8c"/>
<circle cx="345.00" cy="23.40" r="1.75" fill="#3d6b8c"/>
<circle cx="347.10" cy="21.80" r="1.75" fill="#3d6b8c"/>
<circle cx="349.10" cy="20.30" r="1.75" fill="#3d6b8c"/>
<circle cx="351.20" cy="18.70" r="1.75" fill="#3d6b8c"/>
<circle cx="344.20" cy="23.80" r="1.75" fill="#3d6b8c"/>
<circle cx="348.00" cy="21.00" r="1.75" fill="#3d6b8c"/>
<circle cx="350.00" cy="19.50" r="1.75" fill="#3d6b8c"/>
<circle cx="334.50" cy="30.00" r="1.75" fill="#3d6b8c"/>
<circle cx="326.60" cy="35.20" r="1.75" fill="#3d6b8c"/>
<text x="215.3" y="28.4" text-anchor="middle" font-size="9" font-weight="bold" fill="#111">LST</text>
<text x="206.5" y="59.9" text-anchor="middle" font-size="9" font-weight="bold" fill="#111">LSS</text>
<text x="248.6" y="62.4" text-anchor="middle" font-size="9" font-weight="bold" fill="#111">RMN</text>
<text x="256" y="95.1" text-anchor="middle" font-size="9" font-weight="bold" fill="#111">CNM</text>
<text x="271.5" y="118.9" text-anchor="middle" font-size="9" font-weight="bold" fill="#111">TIB</text>
<text x="244.3" y="143.0" text-anchor="middle" font-size="9" font-weight="bold" fill="#111">YNS</text>
<text x="345.1" y="39.5" text-anchor="middle" font-size="9" font-weight="bold" fill="#111">AMU</text>
<rect x="384.0" y="12.6" width="158.39999999999998" height="132.9" fill="none" stroke="#a8a8a8" stroke-width="1.2" rx="0.8"/>
<line x1="386.40" y1="145.5" x2="386.40" y2="147.4" stroke="#444" stroke-width="0.9"/>
<text x="386.40" y="156.6" text-anchor="middle" font-size="10.3" fill="#333">40</text>
<line x1="417.12" y1="145.5" x2="417.12" y2="147.4" stroke="#444" stroke-width="0.9"/>
<text x="417.12" y="156.6" text-anchor="middle" font-size="10.3" fill="#333">45</text>
<line x1="447.84" y1="145.5" x2="447.84" y2="147.4" stroke="#444" stroke-width="0.9"/>
<text x="447.84" y="156.6" text-anchor="middle" font-size="10.3" fill="#333">50</text>
<line x1="478.56" y1="145.5" x2="478.56" y2="147.4" stroke="#444" stroke-width="0.9"/>
<text x="478.56" y="156.6" text-anchor="middle" font-size="10.3" fill="#333">55</text>
<line x1="509.28" y1="145.5" x2="509.28" y2="147.4" stroke="#444" stroke-width="0.9"/>
<text x="509.28" y="156.6" text-anchor="middle" font-size="10.3" fill="#333">60</text>
<line x1="540.00" y1="145.5" x2="540.00" y2="147.4" stroke="#444" stroke-width="0.9"/>
<text x="540.00" y="156.6" text-anchor="middle" font-size="10.3" fill="#333">65</text>
<line x1="381.4" y1="27.7" x2="384.0" y2="27.7" stroke="#444" stroke-width="0.9"/>
<text x="380.9" y="30.9" text-anchor="end" font-size="9" font-weight="bold" fill="#111">YNS</text>
<line x1="381.4" y1="53.45" x2="384.0" y2="53.45" stroke="#444" stroke-width="0.9"/>
<text x="380.9" y="56.650000000000006" text-anchor="end" font-size="9" font-weight="bold" fill="#111">TIB</text>
<line x1="381.4" y1="79.2" x2="384.0" y2="79.2" stroke="#444" stroke-width="0.9"/>
<text x="380.9" y="82.4" text-anchor="end" font-size="9" font-weight="bold" fill="#111">RMN</text>
<line x1="381.4" y1="104.95" x2="384.0" y2="104.95" stroke="#444" stroke-width="0.9"/>
<text x="380.9" y="108.15" text-anchor="end" font-size="9" font-weight="bold" fill="#111">LST</text>
<line x1="381.4" y1="130.7" x2="384.0" y2="130.7" stroke="#444" stroke-width="0.9"/>
<text x="380.9" y="133.89999999999998" text-anchor="end" font-size="9" font-weight="bold" fill="#111">CNM</text>
<text x="467.5" y="170.1" text-anchor="middle" font-size="10.2" fill="#333">f3 (AMU;LSS,X)</text>
<text x="377.3" y="16.5" text-anchor="middle" font-size="9" font-weight="bold" fill="#111">X</text>
<text x="539.5" y="165.8" text-anchor="middle" font-size="9" font-weight="bold" fill="#111">Y</text>
<text x="360.6" y="16" font-size="10" fill="#333">d</text>
<rect x="406.50" y="25.70" width="4.6" height="4.3" fill="#e9913e"/>
<rect x="391.35" y="51.05" width="4.6" height="4.3" fill="#c8683f"/>
<line x1="439.6" y1="79.2" x2="445.9" y2="79.2" stroke="#c0c0c0" stroke-width="1.3"/>
<rect x="440.45" y="77.05" width="4.6" height="4.3" fill="#c0c0c0"/>
<line x1="526.3" y1="105.1" x2="535.4" y2="105.1" stroke="#2c8a50" stroke-width="1.3"/>
<rect x="528.20" y="102.95" width="4.6" height="4.3" fill="#2c8a50"/>
<rect x="400.95" y="128.50" width="4.6" height="4.3" fill="#c996cf"/>
<rect x="34.30" y="183.10" width="3.2" height="9.10" fill="#e9913e"/>
<rect x="34.30" y="192.20" width="3.2" height="4.30" fill="#c996cf"/>
<rect x="34.30" y="196.50" width="3.2" height="103.70" fill="#e5191e"/>
<rect x="34.30" y="300.20" width="3.2" height="3.70" fill="#c0c0c0"/>
<rect x="34.30" y="303.90" width="3.2" height="13.60" fill="#2c8a50"/>
<rect x="37.97" y="183.10" width="3.2" height="7.90" fill="#e9913e"/>
<rect x="37.97" y="191.00" width="3.2" height="9.00" fill="#c996cf"/>
<rect x="37.97" y="200.00" width="3.2" height="2.50" fill="#3d6b8c"/>
<rect x="37.97" y="202.50" width="3.2" height="80.00" fill="#e5191e"/>
<rect x="37.97" y="282.50" width="3.2" height="5.20" fill="#c0c0c0"/>
<rect x="37.97" y="287.70" width="3.2" height="29.80" fill="#2c8a50"/>
<rect x="41.64" y="183.10" width="3.2" height="4.80" fill="#e9913e"/>
<rect x="41.64" y="187.90" width="3.2" height="3.70" fill="#c996cf"/>
<rect x="41.64" y="191.60" width="3.2" height="104.90" fill="#e5191e"/>
<rect x="41.64" y="296.50" width="3.2" height="2.30" fill="#c0c0c0"/>
<rect x="41.64" y="298.80" width="3.2" height="18.70" fill="#2c8a50"/>
<rect x="45.32" y="183.10" width="3.2" height="3.60" fill="#e9913e"/>
<rect x="45.32" y="186.70" width="3.2" height="3.00" fill="#c996cf"/>
<rect x="45.32" y="189.70" width="3.2" height="99.20" fill="#e5191e"/>
<rect x="45.32" y="288.90" width="3.2" height="1.00" fill="#c0c0c0"/>
<rect x="45.32" y="289.90" width="3.2" height="27.60" fill="#2c8a50"/>
<rect x="48.99" y="183.10" width="3.2" height="4.90" fill="#e9913e"/>
<rect x="48.99" y="188.00" width="3.2" height="3.00" fill="#c996cf"/>
<rect x="48.99" y="191.00" width="3.2" height="92.00" fill="#e5191e"/>
<rect x="48.99" y="283.00" width="3.2" height="1.70" fill="#c0c0c0"/>
<rect x="48.99" y="284.70" width="3.2" height="32.80" fill="#2c8a50"/>
<rect x="52.66" y="183.10" width="3.2" height="134.40" fill="#e5191e"/>
<rect x="56.33" y="183.10" width="3.2" height="2.40" fill="#e9913e"/>
<rect x="56.33" y="185.50" width="3.2" height="3.00" fill="#c996cf"/>
<rect x="56.33" y="188.50" width="3.2" height="118.40" fill="#e5191e"/>
<rect x="56.33" y="306.90" width="3.2" height="1.70" fill="#c0c0c0"/>
<rect x="56.33" y="308.60" width="3.2" height="8.90" fill="#2c8a50"/>
<rect x="60.00" y="183.10" width="3.2" height="132.70" fill="#e5191e"/>
<rect x="60.00" y="315.80" width="3.2" height="1.70" fill="#2c8a50"/>
<rect x="63.68" y="183.10" width="3.2" height="126.70" fill="#e5191e"/>
<rect x="63.68" y="309.80" width="3.2" height="7.70" fill="#2c8a50"/>
<rect x="67.35" y="183.10" width="3.2" height="134.40" fill="#e5191e"/>
<rect x="71.02" y="183.10" width="3.2" height="129.70" fill="#e5191e"/>
<rect x="71.02" y="312.80" width="3.2" height="4.70" fill="#2c8a50"/>
<rect x="74.69" y="183.10" width="3.2" height="134.40" fill="#e5191e"/>
<rect x="78.36" y="183.10" width="3.2" height="122.00" fill="#e5191e"/>
<rect x="78.36" y="305.10" width="3.2" height="12.40" fill="#2c8a50"/>
<rect x="82.04" y="183.10" width="3.2" height="123.80" fill="#e5191e"/>
<rect x="82.04" y="306.90" width="3.2" height="10.60" fill="#2c8a50"/>
<rect x="85.71" y="183.10" width="3.2" height="118.60" fill="#e5191e"/>
<rect x="85.71" y="301.70" width="3.2" height="15.80" fill="#2c8a50"/>
<rect x="89.38" y="183.10" width="3.2" height="5.90" fill="#e9913e"/>
<rect x="89.38" y="189.00" width="3.2" height="3.00" fill="#c996cf"/>
<rect x="89.38" y="192.00" width="3.2" height="108.70" fill="#e5191e"/>
<rect x="89.38" y="300.70" width="3.2" height="2.50" fill="#c0c0c0"/>
<rect x="89.38" y="303.20" width="3.2" height="14.30" fill="#2c8a50"/>
<rect x="93.05" y="183.10" width="3.2" height="2.40" fill="#e9913e"/>
<rect x="93.05" y="185.50" width="3.2" height="119.10" fill="#e5191e"/>
<rect x="93.05" y="304.60" width="3.2" height="12.90" fill="#2c8a50"/>
<rect x="96.72" y="183.10" width="3.2" height="128.90" fill="#e5191e"/>
<rect x="96.72" y="312.00" width="3.2" height="5.50" fill="#2c8a50"/>
<rect x="100.40" y="183.10" width="3.2" height="134.40" fill="#e5191e"/>
<rect x="104.07" y="183.10" width="3.2" height="134.40" fill="#e5191e"/>
<rect x="107.74" y="183.10" width="3.2" height="134.40" fill="#e5191e"/>
<rect x="111.41" y="183.10" width="3.2" height="2.40" fill="#e9913e"/>
<rect x="111.41" y="185.50" width="3.2" height="123.10" fill="#e5191e"/>
<rect x="111.41" y="308.60" width="3.2" height="8.90" fill="#2c8a50"/>
<rect x="115.08" y="183.10" width="3.2" height="134.40" fill="#e5191e"/>
<rect x="118.76" y="183.10" width="3.2" height="2.40" fill="#e9913e"/>
<rect x="118.76" y="185.50" width="3.2" height="115.50" fill="#e5191e"/>
<rect x="118.76" y="301.00" width="3.2" height="16.50" fill="#2c8a50"/>
<rect x="122.43" y="183.10" width="3.2" height="134.40" fill="#e5191e"/>
<rect x="126.10" y="183.10" width="3.2" height="134.40" fill="#e5191e"/>
<rect x="129.77" y="183.10" width="3.2" height="121.60" fill="#e5191e"/>
<rect x="129.77" y="304.70" width="3.2" height="12.80" fill="#2c8a50"/>
<rect x="133.44" y="183.10" width="3.2" height="124.90" fill="#e5191e"/>
<rect x="133.44" y="308.00" width="3.2" height="9.50" fill="#2c8a50"/>
<rect x="137.12" y="183.10" width="3.2" height="134.40" fill="#e5191e"/>
<rect x="140.79" y="183.10" width="3.2" height="6.00" fill="#e9913e"/>
<rect x="140.79" y="189.10" width="3.2" height="118.90" fill="#e5191e"/>
<rect x="140.79" y="308.00" width="3.2" height="1.50" fill="#c0c0c0"/>
<rect x="140.79" y="309.50" width="3.2" height="8.00" fill="#2c8a50"/>
<rect x="144.46" y="183.10" width="3.2" height="127.90" fill="#e5191e"/>
<rect x="144.46" y="311.00" width="3.2" height="6.50" fill="#2c8a50"/>
<rect x="148.13" y="183.10" width="3.2" height="134.40" fill="#e5191e"/>
<rect x="151.80" y="183.10" width="3.2" height="15.80" fill="#e9913e"/>
<rect x="151.80" y="198.90" width="3.2" height="3.60" fill="#c996cf"/>
<rect x="151.80" y="202.50" width="3.2" height="100.20" fill="#e5191e"/>
<rect x="151.80" y="302.70" width="3.2" height="4.90" fill="#c0c0c0"/>
<rect x="151.80" y="307.60" width="3.2" height="9.90" fill="#2c8a50"/>
<rect x="155.48" y="183.10" width="3.2" height="134.40" fill="#e5191e"/>
<rect x="159.15" y="183.10" width="3.2" height="128.90" fill="#e5191e"/>
<rect x="159.15" y="312.00" width="3.2" height="5.50" fill="#2c8a50"/>
<rect x="162.82" y="183.10" width="3.2" height="134.40" fill="#2c8a50"/>
<rect x="166.49" y="183.10" width="3.2" height="134.40" fill="#2c8a50"/>
<rect x="170.16" y="183.10" width="3.2" height="134.40" fill="#2c8a50"/>
<rect x="173.84" y="183.10" width="3.2" height="134.40" fill="#2c8a50"/>
<rect x="177.51" y="183.10" width="3.2" height="134.40" fill="#2c8a50"/>
<rect x="181.18" y="183.10" width="3.2" height="134.40" fill="#2c8a50"/>
<rect x="184.85" y="183.10" width="3.2" height="134.40" fill="#2c8a50"/>
<rect x="188.52" y="183.10" width="3.2" height="134.40" fill="#2c8a50"/>
<rect x="192.20" y="183.10" width="3.2" height="134.40" fill="#2c8a50"/>
<rect x="195.87" y="183.10" width="3.2" height="134.40" fill="#2c8a50"/>
<rect x="199.54" y="183.10" width="3.2" height="134.40" fill="#2c8a50"/>
<rect x="203.21" y="183.10" width="3.2" height="4.90" fill="#e9913e"/>
<rect x="203.21" y="188.00" width="3.2" height="31.00" fill="#c996cf"/>
<rect x="203.21" y="219.00" width="3.2" height="5.30" fill="#3d6b8c"/>
<rect x="203.21" y="224.30" width="3.2" height="8.70" fill="#e5191e"/>
<rect x="203.21" y="233.00" width="3.2" height="9.30" fill="#c0c0c0"/>
<rect x="203.21" y="242.30" width="3.2" height="75.20" fill="#2c8a50"/>
<rect x="206.88" y="183.10" width="3.2" height="134.40" fill="#2c8a50"/>
<rect x="210.56" y="183.10" width="3.2" height="134.40" fill="#2c8a50"/>
<rect x="214.23" y="183.10" width="3.2" height="134.40" fill="#2c8a50"/>
<rect x="217.90" y="183.10" width="3.2" height="134.40" fill="#2c8a50"/>
<rect x="221.57" y="183.10" width="3.2" height="134.40" fill="#2c8a50"/>
<rect x="225.24" y="183.10" width="3.2" height="134.40" fill="#2c8a50"/>
<rect x="228.92" y="183.10" width="3.2" height="134.40" fill="#2c8a50"/>
<rect x="232.59" y="183.10" width="3.2" height="134.40" fill="#2c8a50"/>
<rect x="236.26" y="183.10" width="3.2" height="8.90" fill="#e9913e"/>
<rect x="236.26" y="192.00" width="3.2" height="27.50" fill="#c996cf"/>
<rect x="236.26" y="219.50" width="3.2" height="12.70" fill="#3d6b8c"/>
<rect x="236.26" y="232.20" width="3.2" height="33.20" fill="#e5191e"/>
<rect x="236.26" y="265.40" width="3.2" height="19.30" fill="#c0c0c0"/>
<rect x="236.26" y="284.70" width="3.2" height="32.80" fill="#2c8a50"/>
<rect x="239.93" y="183.10" width="3.2" height="10.20" fill="#e9913e"/>
<rect x="239.93" y="193.30" width="3.2" height="26.70" fill="#c996cf"/>
<rect x="239.93" y="220.00" width="3.2" height="14.00" fill="#3d6b8c"/>
<rect x="239.93" y="234.00" width="3.2" height="32.50" fill="#e5191e"/>
<rect x="239.93" y="266.50" width="3.2" height="20.00" fill="#c0c0c0"/>
<rect x="239.93" y="286.50" width="3.2" height="31.00" fill="#2c8a50"/>
<rect x="243.60" y="183.10" width="3.2" height="13.30" fill="#e9913e"/>
<rect x="243.60" y="196.40" width="3.2" height="27.60" fill="#c996cf"/>
<rect x="243.60" y="224.00" width="3.2" height="16.00" fill="#3d6b8c"/>
<rect x="243.60" y="240.00" width="3.2" height="32.50" fill="#e5191e"/>
<rect x="243.60" y="272.50" width="3.2" height="15.20" fill="#c0c0c0"/>
<rect x="243.60" y="287.70" width="3.2" height="29.80" fill="#2c8a50"/>
<rect x="247.28" y="183.10" width="3.2" height="11.10" fill="#e9913e"/>
<rect x="247.28" y="194.20" width="3.2" height="28.30" fill="#c996cf"/>
<rect x="247.28" y="222.50" width="3.2" height="13.00" fill="#3d6b8c"/>
<rect x="247.28" y="235.50" width="3.2" height="35.00" fill="#e5191e"/>
<rect x="247.28" y="270.50" width="3.2" height="17.20" fill="#c0c0c0"/>
<rect x="247.28" y="287.70" width="3.2" height="29.80" fill="#2c8a50"/>
<rect x="250.95" y="183.10" width="3.2" height="134.40" fill="#c996cf"/>
<rect x="254.62" y="183.10" width="3.2" height="134.40" fill="#c996cf"/>
<rect x="258.29" y="183.10" width="3.2" height="134.40" fill="#c996cf"/>
<rect x="261.96" y="183.10" width="3.2" height="134.40" fill="#c996cf"/>
<rect x="265.64" y="183.10" width="3.2" height="134.40" fill="#c996cf"/>
<rect x="269.31" y="183.10" width="3.2" height="134.40" fill="#c996cf"/>
<rect x="272.98" y="183.10" width="3.2" height="132.50" fill="#c996cf"/>
<rect x="272.98" y="315.60" width="3.2" height="1.90" fill="#2c8a50"/>
<rect x="276.65" y="183.10" width="3.2" height="132.50" fill="#c996cf"/>
<rect x="276.65" y="315.60" width="3.2" height="1.90" fill="#2c8a50"/>
<rect x="280.32" y="183.10" width="3.2" height="134.40" fill="#c996cf"/>
<rect x="284.00" y="183.10" width="3.2" height="134.40" fill="#c996cf"/>
<rect x="287.67" y="183.10" width="3.2" height="125.60" fill="#c996cf"/>
<rect x="287.67" y="308.70" width="3.2" height="2.60" fill="#e5191e"/>
<rect x="287.67" y="311.30" width="3.2" height="3.00" fill="#c0c0c0"/>
<rect x="287.67" y="314.30" width="3.2" height="3.20" fill="#2c8a50"/>
<rect x="291.34" y="183.10" width="3.2" height="134.40" fill="#c996cf"/>
<rect x="295.01" y="183.10" width="3.2" height="134.40" fill="#c996cf"/>
<rect x="298.68" y="183.10" width="3.2" height="134.40" fill="#c996cf"/>
<rect x="302.36" y="183.10" width="3.2" height="123.80" fill="#c996cf"/>
<rect x="302.36" y="306.90" width="3.2" height="4.40" fill="#e5191e"/>
<rect x="302.36" y="311.30" width="3.2" height="4.00" fill="#c0c0c0"/>
<rect x="302.36" y="315.30" width="3.2" height="2.20" fill="#2c8a50"/>
<rect x="306.03" y="183.10" width="3.2" height="134.40" fill="#c996cf"/>
<rect x="309.70" y="183.10" width="3.2" height="10.70" fill="#e9913e"/>
<rect x="309.70" y="193.80" width="3.2" height="70.10" fill="#c996cf"/>
<rect x="309.70" y="263.90" width="3.2" height="11.80" fill="#3d6b8c"/>
<rect x="309.70" y="275.70" width="3.2" height="19.30" fill="#e5191e"/>
<rect x="309.70" y="295.00" width="3.2" height="14.90" fill="#c0c0c0"/>
<rect x="309.70" y="309.90" width="3.2" height="7.60" fill="#2c8a50"/>
<rect x="313.37" y="183.10" width="3.2" height="4.20" fill="#e9913e"/>
<rect x="313.37" y="187.30" width="3.2" height="103.40" fill="#c996cf"/>
<rect x="313.37" y="290.70" width="3.2" height="3.70" fill="#3d6b8c"/>
<rect x="313.37" y="294.40" width="3.2" height="8.10" fill="#e5191e"/>
<rect x="313.37" y="302.50" width="3.2" height="11.00" fill="#c0c0c0"/>
<rect x="313.37" y="313.50" width="3.2" height="4.00" fill="#2c8a50"/>
<rect x="317.04" y="183.10" width="3.2" height="134.40" fill="#c996cf"/>
<rect x="320.72" y="183.10" width="3.2" height="134.40" fill="#c996cf"/>
<rect x="324.39" y="183.10" width="3.2" height="39.90" fill="#e9913e"/>
<rect x="324.39" y="223.00" width="3.2" height="94.50" fill="#c0c0c0"/>
<rect x="328.06" y="183.10" width="3.2" height="134.40" fill="#c0c0c0"/>
<rect x="331.73" y="183.10" width="3.2" height="134.40" fill="#c0c0c0"/>
<rect x="335.40" y="183.10" width="3.2" height="24.20" fill="#e9913e"/>
<rect x="335.40" y="207.30" width="3.2" height="110.20" fill="#c0c0c0"/>
<rect x="339.08" y="183.10" width="3.2" height="134.40" fill="#c0c0c0"/>
<rect x="342.75" y="183.10" width="3.2" height="9.40" fill="#e9913e"/>
<rect x="342.75" y="192.50" width="3.2" height="125.00" fill="#c0c0c0"/>
<rect x="346.42" y="183.10" width="3.2" height="134.40" fill="#c0c0c0"/>
<rect x="350.09" y="183.10" width="3.2" height="45.00" fill="#e9913e"/>
<rect x="350.09" y="228.10" width="3.2" height="5.90" fill="#c996cf"/>
<rect x="350.09" y="234.00" width="3.2" height="81.60" fill="#c0c0c0"/>
<rect x="350.09" y="315.60" width="3.2" height="1.90" fill="#2c8a50"/>
<rect x="353.76" y="183.10" width="3.2" height="134.40" fill="#c0c0c0"/>
<rect x="357.44" y="183.10" width="3.2" height="44.30" fill="#e9913e"/>
<rect x="357.44" y="227.40" width="3.2" height="1.50" fill="#c996cf"/>
<rect x="357.44" y="228.90" width="3.2" height="87.10" fill="#c0c0c0"/>
<rect x="357.44" y="316.00" width="3.2" height="1.50" fill="#2c8a50"/>
<rect x="361.11" y="183.10" width="3.2" height="34.50" fill="#e9913e"/>
<rect x="361.11" y="217.60" width="3.2" height="99.90" fill="#c0c0c0"/>
<rect x="364.78" y="183.10" width="3.2" height="43.50" fill="#e9913e"/>
<rect x="364.78" y="226.60" width="3.2" height="1.50" fill="#c996cf"/>
<rect x="364.78" y="228.10" width="3.2" height="88.10" fill="#c0c0c0"/>
<rect x="364.78" y="316.20" width="3.2" height="1.30" fill="#2c8a50"/>
<rect x="368.45" y="183.10" width="3.2" height="49.45" fill="#e9913e"/>
<rect x="368.45" y="232.55" width="3.2" height="7.38" fill="#c996cf"/>
<rect x="368.45" y="239.93" width="3.2" height="4.43" fill="#3d6b8c"/>
<rect x="368.45" y="244.35" width="3.2" height="2.95" fill="#e5191e"/>
<rect x="368.45" y="247.31" width="3.2" height="68.29" fill="#c0c0c0"/>
<rect x="368.45" y="315.60" width="3.2" height="1.90" fill="#2c8a50"/>
<rect x="372.12" y="183.10" width="3.2" height="47.97" fill="#e9913e"/>
<rect x="372.12" y="231.07" width="3.2" height="7.38" fill="#c996cf"/>
<rect x="372.12" y="238.45" width="3.2" height="3.69" fill="#3d6b8c"/>
<rect x="372.12" y="242.14" width="3.2" height="2.21" fill="#e5191e"/>
<rect x="372.12" y="244.35" width="3.2" height="71.25" fill="#c0c0c0"/>
<rect x="372.12" y="315.60" width="3.2" height="1.90" fill="#2c8a50"/>
<rect x="375.80" y="183.10" width="3.2" height="49.45" fill="#e9913e"/>
<rect x="375.80" y="232.55" width="3.2" height="7.38" fill="#c996cf"/>
<rect x="375.80" y="239.93" width="3.2" height="4.43" fill="#3d6b8c"/>
<rect x="375.80" y="244.35" width="3.2" height="2.21" fill="#e5191e"/>
<rect x="375.80" y="246.57" width="3.2" height="69.03" fill="#c0c0c0"/>
<rect x="375.80" y="315.60" width="3.2" height="1.90" fill="#2c8a50"/>
<rect x="379.47" y="183.10" width="3.2" height="48.71" fill="#e9913e"/>
<rect x="379.47" y="231.81" width="3.2" height="7.38" fill="#c996cf"/>
<rect x="379.47" y="239.19" width="3.2" height="3.69" fill="#3d6b8c"/>
<rect x="379.47" y="242.88" width="3.2" height="2.21" fill="#e5191e"/>
<rect x="379.47" y="245.09" width="3.2" height="70.51" fill="#c0c0c0"/>
<rect x="379.47" y="315.60" width="3.2" height="1.90" fill="#2c8a50"/>
<rect x="383.14" y="183.10" width="3.2" height="49.45" fill="#e9913e"/>
<rect x="383.14" y="232.55" width="3.2" height="7.38" fill="#c996cf"/>
<rect x="383.14" y="239.93" width="3.2" height="3.69" fill="#3d6b8c"/>
<rect x="383.14" y="243.62" width="3.2" height="2.21" fill="#e5191e"/>
<rect x="383.14" y="245.83" width="3.2" height="69.77" fill="#c0c0c0"/>
<rect x="383.14" y="315.60" width="3.2" height="1.90" fill="#2c8a50"/>
<rect x="386.81" y="183.10" width="3.2" height="49.45" fill="#e9913e"/>
<rect x="386.81" y="232.55" width="3.2" height="6.64" fill="#c996cf"/>
<rect x="386.81" y="239.19" width="3.2" height="4.43" fill="#3d6b8c"/>
<rect x="386.81" y="243.62" width="3.2" height="2.21" fill="#e5191e"/>
<rect x="386.81" y="245.83" width="3.2" height="69.77" fill="#c0c0c0"/>
<rect x="386.81" y="315.60" width="3.2" height="1.90" fill="#2c8a50"/>
<rect x="390.48" y="183.10" width="3.2" height="49.45" fill="#e9913e"/>
<rect x="390.48" y="232.55" width="3.2" height="7.38" fill="#c996cf"/>
<rect x="390.48" y="239.93" width="3.2" height="3.69" fill="#3d6b8c"/>
<rect x="390.48" y="243.62" width="3.2" height="1.48" fill="#e5191e"/>
<rect x="390.48" y="245.09" width="3.2" height="70.51" fill="#c0c0c0"/>
<rect x="390.48" y="315.60" width="3.2" height="1.90" fill="#2c8a50"/>
<rect x="394.16" y="183.10" width="3.2" height="49.45" fill="#e9913e"/>
<rect x="394.16" y="232.55" width="3.2" height="8.12" fill="#c996cf"/>
<rect x="394.16" y="240.66" width="3.2" height="4.43" fill="#3d6b8c"/>
<rect x="394.16" y="245.09" width="3.2" height="2.21" fill="#e5191e"/>
<rect x="394.16" y="247.31" width="3.2" height="68.29" fill="#c0c0c0"/>
<rect x="394.16" y="315.60" width="3.2" height="1.90" fill="#2c8a50"/>
<rect x="397.83" y="183.10" width="3.2" height="119.60" fill="#e9913e"/>
<rect x="397.83" y="302.70" width="3.2" height="14.80" fill="#c0c0c0"/>
<rect x="401.50" y="183.10" width="3.2" height="116.50" fill="#e9913e"/>
<rect x="401.50" y="299.60" width="3.2" height="17.90" fill="#c0c0c0"/>
<rect x="405.17" y="183.10" width="3.2" height="116.10" fill="#e9913e"/>
<rect x="405.17" y="299.20" width="3.2" height="18.30" fill="#c0c0c0"/>
<rect x="408.84" y="183.10" width="3.2" height="122.70" fill="#e9913e"/>
<rect x="408.84" y="305.80" width="3.2" height="11.70" fill="#c0c0c0"/>
<rect x="412.52" y="183.10" width="3.2" height="134.40" fill="#e9913e"/>
<rect x="416.19" y="183.10" width="3.2" height="134.40" fill="#e9913e"/>
<rect x="419.86" y="183.10" width="3.2" height="134.40" fill="#e9913e"/>
<rect x="423.53" y="183.10" width="3.2" height="134.40" fill="#e9913e"/>
<rect x="427.20" y="183.10" width="3.2" height="134.40" fill="#e9913e"/>
<rect x="430.88" y="183.10" width="3.2" height="124.80" fill="#e9913e"/>
<rect x="430.88" y="307.90" width="3.2" height="9.60" fill="#c0c0c0"/>
<rect x="434.55" y="183.10" width="3.2" height="134.40" fill="#e9913e"/>
<rect x="438.22" y="183.10" width="3.2" height="134.40" fill="#e9913e"/>
<rect x="441.89" y="183.10" width="3.2" height="134.40" fill="#e9913e"/>
<rect x="445.56" y="183.10" width="3.2" height="134.40" fill="#e9913e"/>
<rect x="449.24" y="183.10" width="3.2" height="134.40" fill="#e9913e"/>
<rect x="452.91" y="183.10" width="3.2" height="117.50" fill="#e9913e"/>
<rect x="452.91" y="300.60" width="3.2" height="16.90" fill="#c0c0c0"/>
<rect x="456.58" y="183.10" width="3.2" height="134.40" fill="#e9913e"/>
<rect x="460.25" y="183.10" width="3.2" height="106.60" fill="#e9913e"/>
<rect x="460.25" y="289.70" width="3.2" height="3.00" fill="#c996cf"/>
<rect x="460.25" y="292.70" width="3.2" height="2.70" fill="#e5191e"/>
<rect x="460.25" y="295.40" width="3.2" height="22.10" fill="#c0c0c0"/>
<rect x="463.92" y="183.10" width="3.2" height="121.90" fill="#e9913e"/>
<rect x="463.92" y="305.00" width="3.2" height="12.50" fill="#c0c0c0"/>
<rect x="467.60" y="183.10" width="3.2" height="89.30" fill="#e9913e"/>
<rect x="467.60" y="272.40" width="3.2" height="13.30" fill="#c996cf"/>
<rect x="467.60" y="285.70" width="3.2" height="3.50" fill="#3d6b8c"/>
<rect x="467.60" y="289.20" width="3.2" height="9.80" fill="#e5191e"/>
<rect x="467.60" y="299.00" width="3.2" height="16.60" fill="#c0c0c0"/>
<rect x="467.60" y="315.60" width="3.2" height="1.90" fill="#2c8a50"/>
<rect x="471.27" y="183.10" width="3.2" height="134.40" fill="#3d6b8c"/>
<rect x="474.94" y="183.10" width="3.2" height="134.40" fill="#3d6b8c"/>
<rect x="478.61" y="183.10" width="3.2" height="134.40" fill="#3d6b8c"/>
<rect x="482.28" y="183.10" width="3.2" height="134.40" fill="#3d6b8c"/>
<rect x="485.96" y="183.10" width="3.2" height="134.40" fill="#3d6b8c"/>
<rect x="489.63" y="183.10" width="3.2" height="134.40" fill="#3d6b8c"/>
<rect x="493.30" y="183.10" width="3.2" height="134.40" fill="#3d6b8c"/>
<rect x="496.97" y="183.10" width="3.2" height="134.40" fill="#3d6b8c"/>
<rect x="500.64" y="183.10" width="3.2" height="134.40" fill="#3d6b8c"/>
<rect x="504.32" y="183.10" width="3.2" height="2.80" fill="#e9913e"/>
<rect x="504.32" y="185.90" width="3.2" height="2.20" fill="#c996cf"/>
<rect x="504.32" y="188.10" width="3.2" height="126.90" fill="#3d6b8c"/>
<rect x="504.32" y="315.00" width="3.2" height="2.50" fill="#c0c0c0"/>
<rect x="507.99" y="183.10" width="3.2" height="134.40" fill="#3d6b8c"/>
<rect x="511.66" y="183.10" width="3.2" height="134.40" fill="#3d6b8c"/>
<rect x="515.33" y="183.10" width="3.2" height="134.40" fill="#3d6b8c"/>
<rect x="519.00" y="183.10" width="3.2" height="134.40" fill="#3d6b8c"/>
<rect x="522.68" y="183.10" width="3.2" height="2.10" fill="#c996cf"/>
<rect x="522.68" y="185.20" width="3.2" height="129.80" fill="#3d6b8c"/>
<rect x="522.68" y="315.00" width="3.2" height="2.50" fill="#c0c0c0"/>
<rect x="526.35" y="183.10" width="3.2" height="134.40" fill="#3d6b8c"/>
<rect x="530.02" y="183.10" width="3.2" height="4.30" fill="#e9913e"/>
<rect x="530.02" y="187.40" width="3.2" height="8.80" fill="#c996cf"/>
<rect x="530.02" y="196.20" width="3.2" height="106.30" fill="#3d6b8c"/>
<rect x="530.02" y="302.50" width="3.2" height="1.50" fill="#e5191e"/>
<rect x="530.02" y="304.00" width="3.2" height="10.20" fill="#c0c0c0"/>
<rect x="530.02" y="314.20" width="3.2" height="3.30" fill="#2c8a50"/>
<rect x="533.69" y="183.10" width="3.2" height="2.40" fill="#e9913e"/>
<rect x="533.69" y="185.50" width="3.2" height="4.80" fill="#c996cf"/>
<rect x="533.69" y="190.30" width="3.2" height="118.10" fill="#3d6b8c"/>
<rect x="533.69" y="308.40" width="3.2" height="6.50" fill="#c0c0c0"/>
<rect x="533.69" y="314.90" width="3.2" height="2.60" fill="#2c8a50"/>
<rect x="537.36" y="183.10" width="3.2" height="2.80" fill="#c996cf"/>
<rect x="537.36" y="185.90" width="3.2" height="123.90" fill="#3d6b8c"/>
<rect x="537.36" y="309.80" width="3.2" height="5.10" fill="#c0c0c0"/>
<rect x="537.36" y="314.90" width="3.2" height="2.60" fill="#2c8a50"/>
<rect x="541.04" y="183.10" width="3.2" height="2.40" fill="#e9913e"/>
<rect x="541.04" y="185.50" width="3.2" height="4.80" fill="#c996cf"/>
<rect x="541.04" y="190.30" width="3.2" height="118.80" fill="#3d6b8c"/>
<rect x="541.04" y="309.10" width="3.2" height="5.80" fill="#c0c0c0"/>
<rect x="541.04" y="314.90" width="3.2" height="2.60" fill="#2c8a50"/>
<line x1="31.25" y1="183.1" x2="31.25" y2="317.5" stroke="#444" stroke-width="1"/>
<line x1="24.8" y1="317.50" x2="31.25" y2="317.50" stroke="#444" stroke-width="1"/>
<text transform="translate(22.8,317.50) rotate(-90)" text-anchor="middle" font-size="10" fill="#333">0.0</text>
<line x1="24.8" y1="290.62" x2="31.25" y2="290.62" stroke="#444" stroke-width="1"/>
<text transform="translate(22.8,290.62) rotate(-90)" text-anchor="middle" font-size="10" fill="#333">0.2</text>
<line x1="24.8" y1="263.74" x2="31.25" y2="263.74" stroke="#444" stroke-width="1"/>
<text transform="translate(22.8,263.74) rotate(-90)" text-anchor="middle" font-size="10" fill="#333">0.4</text>
<line x1="24.8" y1="236.86" x2="31.25" y2="236.86" stroke="#444" stroke-width="1"/>
<text transform="translate(22.8,236.86) rotate(-90)" text-anchor="middle" font-size="10" fill="#333">0.6</text>
<line x1="24.8" y1="209.98" x2="31.25" y2="209.98" stroke="#444" stroke-width="1"/>
<text transform="translate(22.8,209.98) rotate(-90)" text-anchor="middle" font-size="10" fill="#333">0.8</text>
<line x1="24.8" y1="183.10" x2="31.25" y2="183.10" stroke="#444" stroke-width="1"/>
<text transform="translate(22.8,183.10) rotate(-90)" text-anchor="middle" font-size="10" fill="#333">1.0</text>
<line x1="34.1" y1="318" x2="34.1" y2="324" stroke="#444" stroke-width="0.9"/>
<line x1="162.4" y1="318" x2="162.4" y2="324" stroke="#444" stroke-width="0.9"/>
<line x1="236" y1="318" x2="236" y2="324" stroke="#444" stroke-width="0.9"/>
<line x1="250.2" y1="318" x2="250.2" y2="324" stroke="#444" stroke-width="0.9"/>
<line x1="324.2" y1="318" x2="324.2" y2="324" stroke="#444" stroke-width="0.9"/>
<line x1="397.7" y1="318" x2="397.7" y2="324" stroke="#444" stroke-width="0.9"/>
<line x1="471.5" y1="318" x2="471.5" y2="324" stroke="#444" stroke-width="0.9"/>
<line x1="543.7" y1="318" x2="543.7" y2="324" stroke="#444" stroke-width="0.9"/>
<text x="85" y="332.5" text-anchor="middle" font-size="9.2" font-weight="bold" fill="#111">LSS</text>
<text x="198" y="332.5" text-anchor="middle" font-size="9.2" font-weight="bold" fill="#111">LST</text>
<text x="243.6" y="332.5" text-anchor="middle" font-size="9.2" font-weight="bold" fill="#111">RMN</text>
<text x="289.4" y="332.5" text-anchor="middle" font-size="9.2" font-weight="bold" fill="#111">CNM</text>
<text x="358.2" y="332.5" text-anchor="middle" font-size="9.2" font-weight="bold" fill="#111">TIB</text>
<text x="433.8" y="332.5" text-anchor="middle" font-size="9.2" font-weight="bold" fill="#111">YNS</text>
<text x="508" y="332.5" text-anchor="middle" font-size="9.2" font-weight="bold" fill="#111">AMU</text>
<text x="4" y="189.6" font-size="9.5" fill="#333">c</text>
</svg></body></html>
